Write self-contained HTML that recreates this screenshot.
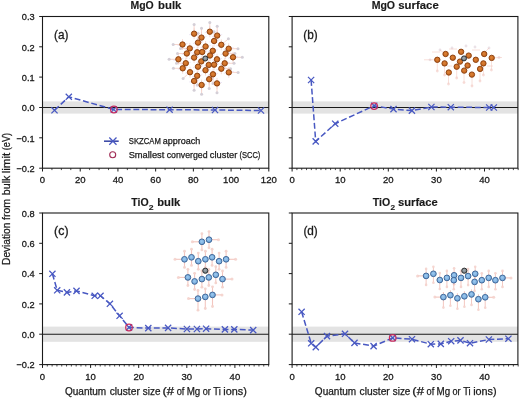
<!DOCTYPE html>
<html><head><meta charset="utf-8"><style>
html,body{margin:0;padding:0;background:#fff;}
svg{display:block;font-family:"Liberation Sans", sans-serif;will-change:transform;}
</style></head><body>
<svg width="520" height="398" viewBox="0 0 520 398">
<defs>
<radialGradient id="go" cx="0.45" cy="0.42" r="0.6"><stop offset="0" stop-color="#dc8236"/><stop offset="1" stop-color="#c4631c"/></radialGradient>
<radialGradient id="gb" cx="0.45" cy="0.42" r="0.6"><stop offset="0" stop-color="#9ecbf0"/><stop offset="1" stop-color="#6ea3d8"/></radialGradient>
<radialGradient id="gg" cx="0.45" cy="0.42" r="0.6"><stop offset="0" stop-color="#a2adb4"/><stop offset="1" stop-color="#6b767c"/></radialGradient>
</defs>
<rect width="520" height="398" fill="#fff"/>
<rect x="42.50" y="101.40" width="226.30" height="12.20" fill="#e3e3e3"/>
<line x1="42.50" y1="107.50" x2="268.80" y2="107.50" stroke="#1a1a1a" stroke-width="1.1" />
<rect x="292.10" y="101.40" width="225.80" height="12.20" fill="#e3e3e3"/>
<line x1="292.10" y1="107.50" x2="517.90" y2="107.50" stroke="#1a1a1a" stroke-width="1.1" />
<rect x="42.50" y="326.60" width="226.30" height="15.20" fill="#e3e3e3"/>
<line x1="42.50" y1="334.20" x2="268.80" y2="334.20" stroke="#1a1a1a" stroke-width="1.1" />
<rect x="292.10" y="326.60" width="225.80" height="15.20" fill="#e3e3e3"/>
<line x1="292.10" y1="334.20" x2="517.90" y2="334.20" stroke="#1a1a1a" stroke-width="1.1" />
<path d="M54.50 110.30 L68.80 96.80 L113.80 109.50 L169.60 109.70 L215.00 110.00 L261.00 110.50" stroke="#4858c2" stroke-width="1.5" fill="none" stroke-dasharray="5.9 2.7"/>
<path d="M51.40 107.20L57.60 113.40M51.40 113.40L57.60 107.20" stroke="#4858c2" stroke-width="1.25" fill="none"/>
<path d="M65.70 93.70L71.90 99.90M65.70 99.90L71.90 93.70" stroke="#4858c2" stroke-width="1.25" fill="none"/>
<path d="M110.70 106.40L116.90 112.60M110.70 112.60L116.90 106.40" stroke="#4858c2" stroke-width="1.25" fill="none"/>
<path d="M166.50 106.60L172.70 112.80M166.50 112.80L172.70 106.60" stroke="#4858c2" stroke-width="1.25" fill="none"/>
<path d="M211.90 106.90L218.10 113.10M211.90 113.10L218.10 106.90" stroke="#4858c2" stroke-width="1.25" fill="none"/>
<path d="M257.90 107.40L264.10 113.60M257.90 113.60L264.10 107.40" stroke="#4858c2" stroke-width="1.25" fill="none"/>
<circle cx="113.9" cy="109.5" r="3.3" stroke="#c82a5e" stroke-width="1.2" fill="none"/>
<path d="M311.10 80.00 L315.70 141.40 L335.20 123.70 L374.20 105.70 L393.50 109.10 L411.90 110.60 L431.40 107.00 L450.80 107.20 L489.20 107.50 L493.80 107.50" stroke="#4858c2" stroke-width="1.5" fill="none" stroke-dasharray="5.9 2.7"/>
<path d="M308.00 76.90L314.20 83.10M308.00 83.10L314.20 76.90" stroke="#4858c2" stroke-width="1.25" fill="none"/>
<path d="M312.60 138.30L318.80 144.50M312.60 144.50L318.80 138.30" stroke="#4858c2" stroke-width="1.25" fill="none"/>
<path d="M332.10 120.60L338.30 126.80M332.10 126.80L338.30 120.60" stroke="#4858c2" stroke-width="1.25" fill="none"/>
<path d="M371.10 102.60L377.30 108.80M371.10 108.80L377.30 102.60" stroke="#4858c2" stroke-width="1.25" fill="none"/>
<path d="M390.40 106.00L396.60 112.20M390.40 112.20L396.60 106.00" stroke="#4858c2" stroke-width="1.25" fill="none"/>
<path d="M408.80 107.50L415.00 113.70M408.80 113.70L415.00 107.50" stroke="#4858c2" stroke-width="1.25" fill="none"/>
<path d="M428.30 103.90L434.50 110.10M428.30 110.10L434.50 103.90" stroke="#4858c2" stroke-width="1.25" fill="none"/>
<path d="M447.70 104.10L453.90 110.30M447.70 110.30L453.90 104.10" stroke="#4858c2" stroke-width="1.25" fill="none"/>
<path d="M486.10 104.40L492.30 110.60M486.10 110.60L492.30 104.40" stroke="#4858c2" stroke-width="1.25" fill="none"/>
<path d="M490.70 104.40L496.90 110.60M490.70 110.60L496.90 104.40" stroke="#4858c2" stroke-width="1.25" fill="none"/>
<circle cx="374.1" cy="106.1" r="3.3" stroke="#c82a5e" stroke-width="1.2" fill="none"/>
<path d="M52.40 273.80 L57.20 290.30 L66.90 292.40 L76.50 290.90 L94.70 295.80 L100.50 295.80 L109.90 303.80 L119.60 315.80 L129.00 327.40 L148.30 328.10 L168.10 327.90 L186.90 329.00 L196.90 329.00 L206.10 328.70 L224.90 329.40 L234.30 329.40 L253.20 330.10" stroke="#4858c2" stroke-width="1.5" fill="none" stroke-dasharray="5.9 2.7"/>
<path d="M49.30 270.70L55.50 276.90M49.30 276.90L55.50 270.70" stroke="#4858c2" stroke-width="1.25" fill="none"/>
<path d="M54.10 287.20L60.30 293.40M54.10 293.40L60.30 287.20" stroke="#4858c2" stroke-width="1.25" fill="none"/>
<path d="M63.80 289.30L70.00 295.50M63.80 295.50L70.00 289.30" stroke="#4858c2" stroke-width="1.25" fill="none"/>
<path d="M73.40 287.80L79.60 294.00M73.40 294.00L79.60 287.80" stroke="#4858c2" stroke-width="1.25" fill="none"/>
<path d="M91.60 292.70L97.80 298.90M91.60 298.90L97.80 292.70" stroke="#4858c2" stroke-width="1.25" fill="none"/>
<path d="M97.40 292.70L103.60 298.90M97.40 298.90L103.60 292.70" stroke="#4858c2" stroke-width="1.25" fill="none"/>
<path d="M106.80 300.70L113.00 306.90M106.80 306.90L113.00 300.70" stroke="#4858c2" stroke-width="1.25" fill="none"/>
<path d="M116.50 312.70L122.70 318.90M116.50 318.90L122.70 312.70" stroke="#4858c2" stroke-width="1.25" fill="none"/>
<path d="M125.90 324.30L132.10 330.50M125.90 330.50L132.10 324.30" stroke="#4858c2" stroke-width="1.25" fill="none"/>
<path d="M145.20 325.00L151.40 331.20M145.20 331.20L151.40 325.00" stroke="#4858c2" stroke-width="1.25" fill="none"/>
<path d="M165.00 324.80L171.20 331.00M165.00 331.00L171.20 324.80" stroke="#4858c2" stroke-width="1.25" fill="none"/>
<path d="M183.80 325.90L190.00 332.10M183.80 332.10L190.00 325.90" stroke="#4858c2" stroke-width="1.25" fill="none"/>
<path d="M193.80 325.90L200.00 332.10M193.80 332.10L200.00 325.90" stroke="#4858c2" stroke-width="1.25" fill="none"/>
<path d="M203.00 325.60L209.20 331.80M203.00 331.80L209.20 325.60" stroke="#4858c2" stroke-width="1.25" fill="none"/>
<path d="M221.80 326.30L228.00 332.50M221.80 332.50L228.00 326.30" stroke="#4858c2" stroke-width="1.25" fill="none"/>
<path d="M231.20 326.30L237.40 332.50M231.20 332.50L237.40 326.30" stroke="#4858c2" stroke-width="1.25" fill="none"/>
<path d="M250.10 327.00L256.30 333.20M250.10 333.20L256.30 327.00" stroke="#4858c2" stroke-width="1.25" fill="none"/>
<circle cx="129" cy="327.5" r="3.3" stroke="#c82a5e" stroke-width="1.2" fill="none"/>
<path d="M301.60 311.80 L311.20 343.30 L315.80 347.10 L327.00 336.10 L345.00 333.80 L354.50 342.90 L373.60 346.10 L392.70 337.90 L412.00 339.20 L430.80 344.20 L440.80 343.90 L451.20 341.20 L460.50 340.40 L470.00 343.20 L488.90 339.50 L508.40 338.70" stroke="#4858c2" stroke-width="1.5" fill="none" stroke-dasharray="5.9 2.7"/>
<path d="M298.50 308.70L304.70 314.90M298.50 314.90L304.70 308.70" stroke="#4858c2" stroke-width="1.25" fill="none"/>
<path d="M308.10 340.20L314.30 346.40M308.10 346.40L314.30 340.20" stroke="#4858c2" stroke-width="1.25" fill="none"/>
<path d="M312.70 344.00L318.90 350.20M312.70 350.20L318.90 344.00" stroke="#4858c2" stroke-width="1.25" fill="none"/>
<path d="M323.90 333.00L330.10 339.20M323.90 339.20L330.10 333.00" stroke="#4858c2" stroke-width="1.25" fill="none"/>
<path d="M341.90 330.70L348.10 336.90M341.90 336.90L348.10 330.70" stroke="#4858c2" stroke-width="1.25" fill="none"/>
<path d="M351.40 339.80L357.60 346.00M351.40 346.00L357.60 339.80" stroke="#4858c2" stroke-width="1.25" fill="none"/>
<path d="M370.50 343.00L376.70 349.20M370.50 349.20L376.70 343.00" stroke="#4858c2" stroke-width="1.25" fill="none"/>
<path d="M389.60 334.80L395.80 341.00M389.60 341.00L395.80 334.80" stroke="#4858c2" stroke-width="1.25" fill="none"/>
<path d="M408.90 336.10L415.10 342.30M408.90 342.30L415.10 336.10" stroke="#4858c2" stroke-width="1.25" fill="none"/>
<path d="M427.70 341.10L433.90 347.30M427.70 347.30L433.90 341.10" stroke="#4858c2" stroke-width="1.25" fill="none"/>
<path d="M437.70 340.80L443.90 347.00M437.70 347.00L443.90 340.80" stroke="#4858c2" stroke-width="1.25" fill="none"/>
<path d="M448.10 338.10L454.30 344.30M448.10 344.30L454.30 338.10" stroke="#4858c2" stroke-width="1.25" fill="none"/>
<path d="M457.40 337.30L463.60 343.50M457.40 343.50L463.60 337.30" stroke="#4858c2" stroke-width="1.25" fill="none"/>
<path d="M466.90 340.10L473.10 346.30M466.90 346.30L473.10 340.10" stroke="#4858c2" stroke-width="1.25" fill="none"/>
<path d="M485.80 336.40L492.00 342.60M485.80 342.60L492.00 336.40" stroke="#4858c2" stroke-width="1.25" fill="none"/>
<path d="M505.30 335.60L511.50 341.80M505.30 341.80L511.50 335.60" stroke="#4858c2" stroke-width="1.25" fill="none"/>
<circle cx="392.7" cy="337.9" r="3.3" stroke="#c82a5e" stroke-width="1.2" fill="none"/>
<rect x="42.50" y="16.50" width="226.30" height="151.70" fill="none" stroke="#1a1a1a" stroke-width="1.1"/>
<rect x="292.10" y="16.50" width="225.80" height="151.70" fill="none" stroke="#1a1a1a" stroke-width="1.1"/>
<rect x="42.50" y="213.00" width="226.30" height="151.60" fill="none" stroke="#1a1a1a" stroke-width="1.1"/>
<rect x="292.10" y="213.00" width="225.80" height="151.60" fill="none" stroke="#1a1a1a" stroke-width="1.1"/>
<line x1="39.20" y1="16.50" x2="42.50" y2="16.50" stroke="#1a1a1a" stroke-width="1.0" />
<line x1="39.20" y1="46.80" x2="42.50" y2="46.80" stroke="#1a1a1a" stroke-width="1.0" />
<line x1="39.20" y1="77.10" x2="42.50" y2="77.10" stroke="#1a1a1a" stroke-width="1.0" />
<line x1="39.20" y1="107.50" x2="42.50" y2="107.50" stroke="#1a1a1a" stroke-width="1.0" />
<line x1="39.20" y1="137.80" x2="42.50" y2="137.80" stroke="#1a1a1a" stroke-width="1.0" />
<line x1="39.20" y1="168.20" x2="42.50" y2="168.20" stroke="#1a1a1a" stroke-width="1.0" />
<text x="34.60" y="20.35" font-size="9.6" text-anchor="end" font-weight="normal" fill="#1a1a1a" stroke="#1a1a1a" stroke-width="0.3" textLength="12.8" lengthAdjust="spacingAndGlyphs" >0.3</text>
<text x="34.60" y="50.65" font-size="9.6" text-anchor="end" font-weight="normal" fill="#1a1a1a" stroke="#1a1a1a" stroke-width="0.3" textLength="12.8" lengthAdjust="spacingAndGlyphs" >0.2</text>
<text x="34.60" y="80.95" font-size="9.6" text-anchor="end" font-weight="normal" fill="#1a1a1a" stroke="#1a1a1a" stroke-width="0.3" textLength="12.8" lengthAdjust="spacingAndGlyphs" >0.1</text>
<text x="34.60" y="111.35" font-size="9.6" text-anchor="end" font-weight="normal" fill="#1a1a1a" stroke="#1a1a1a" stroke-width="0.3" textLength="12.8" lengthAdjust="spacingAndGlyphs" >0.0</text>
<text x="34.60" y="141.65" font-size="9.6" text-anchor="end" font-weight="normal" fill="#1a1a1a" stroke="#1a1a1a" stroke-width="0.3" textLength="18.2" lengthAdjust="spacingAndGlyphs" >−0.1</text>
<text x="34.60" y="172.05" font-size="9.6" text-anchor="end" font-weight="normal" fill="#1a1a1a" stroke="#1a1a1a" stroke-width="0.3" textLength="18.2" lengthAdjust="spacingAndGlyphs" >−0.2</text>
<line x1="288.80" y1="16.50" x2="292.10" y2="16.50" stroke="#1a1a1a" stroke-width="1.0" />
<line x1="288.80" y1="46.80" x2="292.10" y2="46.80" stroke="#1a1a1a" stroke-width="1.0" />
<line x1="288.80" y1="77.10" x2="292.10" y2="77.10" stroke="#1a1a1a" stroke-width="1.0" />
<line x1="288.80" y1="107.50" x2="292.10" y2="107.50" stroke="#1a1a1a" stroke-width="1.0" />
<line x1="288.80" y1="137.80" x2="292.10" y2="137.80" stroke="#1a1a1a" stroke-width="1.0" />
<line x1="288.80" y1="168.20" x2="292.10" y2="168.20" stroke="#1a1a1a" stroke-width="1.0" />
<line x1="39.20" y1="213.00" x2="42.50" y2="213.00" stroke="#1a1a1a" stroke-width="1.0" />
<line x1="39.20" y1="243.30" x2="42.50" y2="243.30" stroke="#1a1a1a" stroke-width="1.0" />
<line x1="39.20" y1="273.60" x2="42.50" y2="273.60" stroke="#1a1a1a" stroke-width="1.0" />
<line x1="39.20" y1="303.90" x2="42.50" y2="303.90" stroke="#1a1a1a" stroke-width="1.0" />
<line x1="39.20" y1="334.20" x2="42.50" y2="334.20" stroke="#1a1a1a" stroke-width="1.0" />
<line x1="39.20" y1="364.60" x2="42.50" y2="364.60" stroke="#1a1a1a" stroke-width="1.0" />
<text x="34.60" y="216.85" font-size="9.6" text-anchor="end" font-weight="normal" fill="#1a1a1a" stroke="#1a1a1a" stroke-width="0.3" textLength="12.8" lengthAdjust="spacingAndGlyphs" >0.8</text>
<text x="34.60" y="247.15" font-size="9.6" text-anchor="end" font-weight="normal" fill="#1a1a1a" stroke="#1a1a1a" stroke-width="0.3" textLength="12.8" lengthAdjust="spacingAndGlyphs" >0.6</text>
<text x="34.60" y="277.45" font-size="9.6" text-anchor="end" font-weight="normal" fill="#1a1a1a" stroke="#1a1a1a" stroke-width="0.3" textLength="12.8" lengthAdjust="spacingAndGlyphs" >0.4</text>
<text x="34.60" y="307.75" font-size="9.6" text-anchor="end" font-weight="normal" fill="#1a1a1a" stroke="#1a1a1a" stroke-width="0.3" textLength="12.8" lengthAdjust="spacingAndGlyphs" >0.2</text>
<text x="34.60" y="338.05" font-size="9.6" text-anchor="end" font-weight="normal" fill="#1a1a1a" stroke="#1a1a1a" stroke-width="0.3" textLength="12.8" lengthAdjust="spacingAndGlyphs" >0.0</text>
<text x="34.60" y="368.45" font-size="9.6" text-anchor="end" font-weight="normal" fill="#1a1a1a" stroke="#1a1a1a" stroke-width="0.3" textLength="18.2" lengthAdjust="spacingAndGlyphs" >−0.2</text>
<line x1="288.80" y1="213.00" x2="292.10" y2="213.00" stroke="#1a1a1a" stroke-width="1.0" />
<line x1="288.80" y1="243.30" x2="292.10" y2="243.30" stroke="#1a1a1a" stroke-width="1.0" />
<line x1="288.80" y1="273.60" x2="292.10" y2="273.60" stroke="#1a1a1a" stroke-width="1.0" />
<line x1="288.80" y1="303.90" x2="292.10" y2="303.90" stroke="#1a1a1a" stroke-width="1.0" />
<line x1="288.80" y1="334.20" x2="292.10" y2="334.20" stroke="#1a1a1a" stroke-width="1.0" />
<line x1="288.80" y1="364.60" x2="292.10" y2="364.60" stroke="#1a1a1a" stroke-width="1.0" />
<line x1="42.50" y1="168.20" x2="42.50" y2="171.50" stroke="#1a1a1a" stroke-width="1.0" />
<line x1="51.93" y1="168.20" x2="51.93" y2="170.10" stroke="#1a1a1a" stroke-width="0.8" />
<line x1="61.36" y1="168.20" x2="61.36" y2="170.10" stroke="#1a1a1a" stroke-width="0.8" />
<line x1="70.79" y1="168.20" x2="70.79" y2="170.10" stroke="#1a1a1a" stroke-width="0.8" />
<line x1="80.22" y1="168.20" x2="80.22" y2="171.50" stroke="#1a1a1a" stroke-width="1.0" />
<line x1="89.64" y1="168.20" x2="89.64" y2="170.10" stroke="#1a1a1a" stroke-width="0.8" />
<line x1="99.07" y1="168.20" x2="99.07" y2="170.10" stroke="#1a1a1a" stroke-width="0.8" />
<line x1="108.50" y1="168.20" x2="108.50" y2="170.10" stroke="#1a1a1a" stroke-width="0.8" />
<line x1="117.93" y1="168.20" x2="117.93" y2="171.50" stroke="#1a1a1a" stroke-width="1.0" />
<line x1="127.36" y1="168.20" x2="127.36" y2="170.10" stroke="#1a1a1a" stroke-width="0.8" />
<line x1="136.79" y1="168.20" x2="136.79" y2="170.10" stroke="#1a1a1a" stroke-width="0.8" />
<line x1="146.22" y1="168.20" x2="146.22" y2="170.10" stroke="#1a1a1a" stroke-width="0.8" />
<line x1="155.65" y1="168.20" x2="155.65" y2="171.50" stroke="#1a1a1a" stroke-width="1.0" />
<line x1="165.08" y1="168.20" x2="165.08" y2="170.10" stroke="#1a1a1a" stroke-width="0.8" />
<line x1="174.51" y1="168.20" x2="174.51" y2="170.10" stroke="#1a1a1a" stroke-width="0.8" />
<line x1="183.94" y1="168.20" x2="183.94" y2="170.10" stroke="#1a1a1a" stroke-width="0.8" />
<line x1="193.36" y1="168.20" x2="193.36" y2="171.50" stroke="#1a1a1a" stroke-width="1.0" />
<line x1="202.79" y1="168.20" x2="202.79" y2="170.10" stroke="#1a1a1a" stroke-width="0.8" />
<line x1="212.22" y1="168.20" x2="212.22" y2="170.10" stroke="#1a1a1a" stroke-width="0.8" />
<line x1="221.65" y1="168.20" x2="221.65" y2="170.10" stroke="#1a1a1a" stroke-width="0.8" />
<line x1="231.08" y1="168.20" x2="231.08" y2="171.50" stroke="#1a1a1a" stroke-width="1.0" />
<line x1="240.51" y1="168.20" x2="240.51" y2="170.10" stroke="#1a1a1a" stroke-width="0.8" />
<line x1="249.94" y1="168.20" x2="249.94" y2="170.10" stroke="#1a1a1a" stroke-width="0.8" />
<line x1="259.37" y1="168.20" x2="259.37" y2="170.10" stroke="#1a1a1a" stroke-width="0.8" />
<line x1="268.80" y1="168.20" x2="268.80" y2="171.50" stroke="#1a1a1a" stroke-width="1.0" />
<text x="42.50" y="183.20" font-size="9.9" text-anchor="middle" font-weight="normal" fill="#1a1a1a" stroke="#1a1a1a" stroke-width="0.3" textLength="5.3" lengthAdjust="spacingAndGlyphs" >0</text>
<text x="80.22" y="183.20" font-size="9.9" text-anchor="middle" font-weight="normal" fill="#1a1a1a" stroke="#1a1a1a" stroke-width="0.3" textLength="10.6" lengthAdjust="spacingAndGlyphs" >20</text>
<text x="117.93" y="183.20" font-size="9.9" text-anchor="middle" font-weight="normal" fill="#1a1a1a" stroke="#1a1a1a" stroke-width="0.3" textLength="10.6" lengthAdjust="spacingAndGlyphs" >40</text>
<text x="155.65" y="183.20" font-size="9.9" text-anchor="middle" font-weight="normal" fill="#1a1a1a" stroke="#1a1a1a" stroke-width="0.3" textLength="10.6" lengthAdjust="spacingAndGlyphs" >60</text>
<text x="193.36" y="183.20" font-size="9.9" text-anchor="middle" font-weight="normal" fill="#1a1a1a" stroke="#1a1a1a" stroke-width="0.3" textLength="10.6" lengthAdjust="spacingAndGlyphs" >80</text>
<text x="231.08" y="183.20" font-size="9.9" text-anchor="middle" font-weight="normal" fill="#1a1a1a" stroke="#1a1a1a" stroke-width="0.3" textLength="16" lengthAdjust="spacingAndGlyphs" >100</text>
<text x="268.80" y="183.20" font-size="9.9" text-anchor="middle" font-weight="normal" fill="#1a1a1a" stroke="#1a1a1a" stroke-width="0.3" textLength="16" lengthAdjust="spacingAndGlyphs" >120</text>
<line x1="292.10" y1="168.20" x2="292.10" y2="171.50" stroke="#1a1a1a" stroke-width="1.0" />
<line x1="296.91" y1="168.20" x2="296.91" y2="170.10" stroke="#1a1a1a" stroke-width="0.8" />
<line x1="301.72" y1="168.20" x2="301.72" y2="170.10" stroke="#1a1a1a" stroke-width="0.8" />
<line x1="306.53" y1="168.20" x2="306.53" y2="170.10" stroke="#1a1a1a" stroke-width="0.8" />
<line x1="311.34" y1="168.20" x2="311.34" y2="170.10" stroke="#1a1a1a" stroke-width="0.8" />
<line x1="316.15" y1="168.20" x2="316.15" y2="170.10" stroke="#1a1a1a" stroke-width="0.8" />
<line x1="320.96" y1="168.20" x2="320.96" y2="170.10" stroke="#1a1a1a" stroke-width="0.8" />
<line x1="325.77" y1="168.20" x2="325.77" y2="170.10" stroke="#1a1a1a" stroke-width="0.8" />
<line x1="330.58" y1="168.20" x2="330.58" y2="170.10" stroke="#1a1a1a" stroke-width="0.8" />
<line x1="335.39" y1="168.20" x2="335.39" y2="170.10" stroke="#1a1a1a" stroke-width="0.8" />
<line x1="340.20" y1="168.20" x2="340.20" y2="171.50" stroke="#1a1a1a" stroke-width="1.0" />
<line x1="345.01" y1="168.20" x2="345.01" y2="170.10" stroke="#1a1a1a" stroke-width="0.8" />
<line x1="349.82" y1="168.20" x2="349.82" y2="170.10" stroke="#1a1a1a" stroke-width="0.8" />
<line x1="354.63" y1="168.20" x2="354.63" y2="170.10" stroke="#1a1a1a" stroke-width="0.8" />
<line x1="359.44" y1="168.20" x2="359.44" y2="170.10" stroke="#1a1a1a" stroke-width="0.8" />
<line x1="364.25" y1="168.20" x2="364.25" y2="170.10" stroke="#1a1a1a" stroke-width="0.8" />
<line x1="369.06" y1="168.20" x2="369.06" y2="170.10" stroke="#1a1a1a" stroke-width="0.8" />
<line x1="373.87" y1="168.20" x2="373.87" y2="170.10" stroke="#1a1a1a" stroke-width="0.8" />
<line x1="378.68" y1="168.20" x2="378.68" y2="170.10" stroke="#1a1a1a" stroke-width="0.8" />
<line x1="383.49" y1="168.20" x2="383.49" y2="170.10" stroke="#1a1a1a" stroke-width="0.8" />
<line x1="388.30" y1="168.20" x2="388.30" y2="171.50" stroke="#1a1a1a" stroke-width="1.0" />
<line x1="393.11" y1="168.20" x2="393.11" y2="170.10" stroke="#1a1a1a" stroke-width="0.8" />
<line x1="397.92" y1="168.20" x2="397.92" y2="170.10" stroke="#1a1a1a" stroke-width="0.8" />
<line x1="402.73" y1="168.20" x2="402.73" y2="170.10" stroke="#1a1a1a" stroke-width="0.8" />
<line x1="407.54" y1="168.20" x2="407.54" y2="170.10" stroke="#1a1a1a" stroke-width="0.8" />
<line x1="412.35" y1="168.20" x2="412.35" y2="170.10" stroke="#1a1a1a" stroke-width="0.8" />
<line x1="417.16" y1="168.20" x2="417.16" y2="170.10" stroke="#1a1a1a" stroke-width="0.8" />
<line x1="421.97" y1="168.20" x2="421.97" y2="170.10" stroke="#1a1a1a" stroke-width="0.8" />
<line x1="426.78" y1="168.20" x2="426.78" y2="170.10" stroke="#1a1a1a" stroke-width="0.8" />
<line x1="431.59" y1="168.20" x2="431.59" y2="170.10" stroke="#1a1a1a" stroke-width="0.8" />
<line x1="436.40" y1="168.20" x2="436.40" y2="171.50" stroke="#1a1a1a" stroke-width="1.0" />
<line x1="441.21" y1="168.20" x2="441.21" y2="170.10" stroke="#1a1a1a" stroke-width="0.8" />
<line x1="446.02" y1="168.20" x2="446.02" y2="170.10" stroke="#1a1a1a" stroke-width="0.8" />
<line x1="450.83" y1="168.20" x2="450.83" y2="170.10" stroke="#1a1a1a" stroke-width="0.8" />
<line x1="455.64" y1="168.20" x2="455.64" y2="170.10" stroke="#1a1a1a" stroke-width="0.8" />
<line x1="460.45" y1="168.20" x2="460.45" y2="170.10" stroke="#1a1a1a" stroke-width="0.8" />
<line x1="465.26" y1="168.20" x2="465.26" y2="170.10" stroke="#1a1a1a" stroke-width="0.8" />
<line x1="470.07" y1="168.20" x2="470.07" y2="170.10" stroke="#1a1a1a" stroke-width="0.8" />
<line x1="474.88" y1="168.20" x2="474.88" y2="170.10" stroke="#1a1a1a" stroke-width="0.8" />
<line x1="479.69" y1="168.20" x2="479.69" y2="170.10" stroke="#1a1a1a" stroke-width="0.8" />
<line x1="484.50" y1="168.20" x2="484.50" y2="171.50" stroke="#1a1a1a" stroke-width="1.0" />
<line x1="489.31" y1="168.20" x2="489.31" y2="170.10" stroke="#1a1a1a" stroke-width="0.8" />
<line x1="494.12" y1="168.20" x2="494.12" y2="170.10" stroke="#1a1a1a" stroke-width="0.8" />
<line x1="498.93" y1="168.20" x2="498.93" y2="170.10" stroke="#1a1a1a" stroke-width="0.8" />
<line x1="503.74" y1="168.20" x2="503.74" y2="170.10" stroke="#1a1a1a" stroke-width="0.8" />
<line x1="508.55" y1="168.20" x2="508.55" y2="170.10" stroke="#1a1a1a" stroke-width="0.8" />
<line x1="513.36" y1="168.20" x2="513.36" y2="170.10" stroke="#1a1a1a" stroke-width="0.8" />
<line x1="518.17" y1="168.20" x2="518.17" y2="170.10" stroke="#1a1a1a" stroke-width="0.8" />
<text x="292.10" y="183.20" font-size="9.9" text-anchor="middle" font-weight="normal" fill="#1a1a1a" stroke="#1a1a1a" stroke-width="0.3" textLength="5.3" lengthAdjust="spacingAndGlyphs" >0</text>
<text x="340.20" y="183.20" font-size="9.9" text-anchor="middle" font-weight="normal" fill="#1a1a1a" stroke="#1a1a1a" stroke-width="0.3" textLength="10.6" lengthAdjust="spacingAndGlyphs" >10</text>
<text x="388.30" y="183.20" font-size="9.9" text-anchor="middle" font-weight="normal" fill="#1a1a1a" stroke="#1a1a1a" stroke-width="0.3" textLength="10.6" lengthAdjust="spacingAndGlyphs" >20</text>
<text x="436.40" y="183.20" font-size="9.9" text-anchor="middle" font-weight="normal" fill="#1a1a1a" stroke="#1a1a1a" stroke-width="0.3" textLength="10.6" lengthAdjust="spacingAndGlyphs" >30</text>
<text x="484.50" y="183.20" font-size="9.9" text-anchor="middle" font-weight="normal" fill="#1a1a1a" stroke="#1a1a1a" stroke-width="0.3" textLength="10.6" lengthAdjust="spacingAndGlyphs" >40</text>
<line x1="42.50" y1="364.60" x2="42.50" y2="367.90" stroke="#1a1a1a" stroke-width="1.0" />
<line x1="47.31" y1="364.60" x2="47.31" y2="366.50" stroke="#1a1a1a" stroke-width="0.8" />
<line x1="52.12" y1="364.60" x2="52.12" y2="366.50" stroke="#1a1a1a" stroke-width="0.8" />
<line x1="56.93" y1="364.60" x2="56.93" y2="366.50" stroke="#1a1a1a" stroke-width="0.8" />
<line x1="61.74" y1="364.60" x2="61.74" y2="366.50" stroke="#1a1a1a" stroke-width="0.8" />
<line x1="66.55" y1="364.60" x2="66.55" y2="366.50" stroke="#1a1a1a" stroke-width="0.8" />
<line x1="71.36" y1="364.60" x2="71.36" y2="366.50" stroke="#1a1a1a" stroke-width="0.8" />
<line x1="76.17" y1="364.60" x2="76.17" y2="366.50" stroke="#1a1a1a" stroke-width="0.8" />
<line x1="80.98" y1="364.60" x2="80.98" y2="366.50" stroke="#1a1a1a" stroke-width="0.8" />
<line x1="85.79" y1="364.60" x2="85.79" y2="366.50" stroke="#1a1a1a" stroke-width="0.8" />
<line x1="90.60" y1="364.60" x2="90.60" y2="367.90" stroke="#1a1a1a" stroke-width="1.0" />
<line x1="95.41" y1="364.60" x2="95.41" y2="366.50" stroke="#1a1a1a" stroke-width="0.8" />
<line x1="100.22" y1="364.60" x2="100.22" y2="366.50" stroke="#1a1a1a" stroke-width="0.8" />
<line x1="105.03" y1="364.60" x2="105.03" y2="366.50" stroke="#1a1a1a" stroke-width="0.8" />
<line x1="109.84" y1="364.60" x2="109.84" y2="366.50" stroke="#1a1a1a" stroke-width="0.8" />
<line x1="114.65" y1="364.60" x2="114.65" y2="366.50" stroke="#1a1a1a" stroke-width="0.8" />
<line x1="119.46" y1="364.60" x2="119.46" y2="366.50" stroke="#1a1a1a" stroke-width="0.8" />
<line x1="124.27" y1="364.60" x2="124.27" y2="366.50" stroke="#1a1a1a" stroke-width="0.8" />
<line x1="129.08" y1="364.60" x2="129.08" y2="366.50" stroke="#1a1a1a" stroke-width="0.8" />
<line x1="133.89" y1="364.60" x2="133.89" y2="366.50" stroke="#1a1a1a" stroke-width="0.8" />
<line x1="138.70" y1="364.60" x2="138.70" y2="367.90" stroke="#1a1a1a" stroke-width="1.0" />
<line x1="143.51" y1="364.60" x2="143.51" y2="366.50" stroke="#1a1a1a" stroke-width="0.8" />
<line x1="148.32" y1="364.60" x2="148.32" y2="366.50" stroke="#1a1a1a" stroke-width="0.8" />
<line x1="153.13" y1="364.60" x2="153.13" y2="366.50" stroke="#1a1a1a" stroke-width="0.8" />
<line x1="157.94" y1="364.60" x2="157.94" y2="366.50" stroke="#1a1a1a" stroke-width="0.8" />
<line x1="162.75" y1="364.60" x2="162.75" y2="366.50" stroke="#1a1a1a" stroke-width="0.8" />
<line x1="167.56" y1="364.60" x2="167.56" y2="366.50" stroke="#1a1a1a" stroke-width="0.8" />
<line x1="172.37" y1="364.60" x2="172.37" y2="366.50" stroke="#1a1a1a" stroke-width="0.8" />
<line x1="177.18" y1="364.60" x2="177.18" y2="366.50" stroke="#1a1a1a" stroke-width="0.8" />
<line x1="181.99" y1="364.60" x2="181.99" y2="366.50" stroke="#1a1a1a" stroke-width="0.8" />
<line x1="186.80" y1="364.60" x2="186.80" y2="367.90" stroke="#1a1a1a" stroke-width="1.0" />
<line x1="191.61" y1="364.60" x2="191.61" y2="366.50" stroke="#1a1a1a" stroke-width="0.8" />
<line x1="196.42" y1="364.60" x2="196.42" y2="366.50" stroke="#1a1a1a" stroke-width="0.8" />
<line x1="201.23" y1="364.60" x2="201.23" y2="366.50" stroke="#1a1a1a" stroke-width="0.8" />
<line x1="206.04" y1="364.60" x2="206.04" y2="366.50" stroke="#1a1a1a" stroke-width="0.8" />
<line x1="210.85" y1="364.60" x2="210.85" y2="366.50" stroke="#1a1a1a" stroke-width="0.8" />
<line x1="215.66" y1="364.60" x2="215.66" y2="366.50" stroke="#1a1a1a" stroke-width="0.8" />
<line x1="220.47" y1="364.60" x2="220.47" y2="366.50" stroke="#1a1a1a" stroke-width="0.8" />
<line x1="225.28" y1="364.60" x2="225.28" y2="366.50" stroke="#1a1a1a" stroke-width="0.8" />
<line x1="230.09" y1="364.60" x2="230.09" y2="366.50" stroke="#1a1a1a" stroke-width="0.8" />
<line x1="234.90" y1="364.60" x2="234.90" y2="367.90" stroke="#1a1a1a" stroke-width="1.0" />
<line x1="239.71" y1="364.60" x2="239.71" y2="366.50" stroke="#1a1a1a" stroke-width="0.8" />
<line x1="244.52" y1="364.60" x2="244.52" y2="366.50" stroke="#1a1a1a" stroke-width="0.8" />
<line x1="249.33" y1="364.60" x2="249.33" y2="366.50" stroke="#1a1a1a" stroke-width="0.8" />
<line x1="254.14" y1="364.60" x2="254.14" y2="366.50" stroke="#1a1a1a" stroke-width="0.8" />
<line x1="258.95" y1="364.60" x2="258.95" y2="366.50" stroke="#1a1a1a" stroke-width="0.8" />
<line x1="263.76" y1="364.60" x2="263.76" y2="366.50" stroke="#1a1a1a" stroke-width="0.8" />
<line x1="268.57" y1="364.60" x2="268.57" y2="366.50" stroke="#1a1a1a" stroke-width="0.8" />
<text x="42.50" y="379.60" font-size="9.9" text-anchor="middle" font-weight="normal" fill="#1a1a1a" stroke="#1a1a1a" stroke-width="0.3" textLength="5.3" lengthAdjust="spacingAndGlyphs" >0</text>
<text x="90.60" y="379.60" font-size="9.9" text-anchor="middle" font-weight="normal" fill="#1a1a1a" stroke="#1a1a1a" stroke-width="0.3" textLength="10.6" lengthAdjust="spacingAndGlyphs" >10</text>
<text x="138.70" y="379.60" font-size="9.9" text-anchor="middle" font-weight="normal" fill="#1a1a1a" stroke="#1a1a1a" stroke-width="0.3" textLength="10.6" lengthAdjust="spacingAndGlyphs" >20</text>
<text x="186.80" y="379.60" font-size="9.9" text-anchor="middle" font-weight="normal" fill="#1a1a1a" stroke="#1a1a1a" stroke-width="0.3" textLength="10.6" lengthAdjust="spacingAndGlyphs" >30</text>
<text x="234.90" y="379.60" font-size="9.9" text-anchor="middle" font-weight="normal" fill="#1a1a1a" stroke="#1a1a1a" stroke-width="0.3" textLength="10.6" lengthAdjust="spacingAndGlyphs" >40</text>
<line x1="292.10" y1="364.60" x2="292.10" y2="367.90" stroke="#1a1a1a" stroke-width="1.0" />
<line x1="296.91" y1="364.60" x2="296.91" y2="366.50" stroke="#1a1a1a" stroke-width="0.8" />
<line x1="301.72" y1="364.60" x2="301.72" y2="366.50" stroke="#1a1a1a" stroke-width="0.8" />
<line x1="306.53" y1="364.60" x2="306.53" y2="366.50" stroke="#1a1a1a" stroke-width="0.8" />
<line x1="311.34" y1="364.60" x2="311.34" y2="366.50" stroke="#1a1a1a" stroke-width="0.8" />
<line x1="316.15" y1="364.60" x2="316.15" y2="366.50" stroke="#1a1a1a" stroke-width="0.8" />
<line x1="320.96" y1="364.60" x2="320.96" y2="366.50" stroke="#1a1a1a" stroke-width="0.8" />
<line x1="325.77" y1="364.60" x2="325.77" y2="366.50" stroke="#1a1a1a" stroke-width="0.8" />
<line x1="330.58" y1="364.60" x2="330.58" y2="366.50" stroke="#1a1a1a" stroke-width="0.8" />
<line x1="335.39" y1="364.60" x2="335.39" y2="366.50" stroke="#1a1a1a" stroke-width="0.8" />
<line x1="340.20" y1="364.60" x2="340.20" y2="367.90" stroke="#1a1a1a" stroke-width="1.0" />
<line x1="345.01" y1="364.60" x2="345.01" y2="366.50" stroke="#1a1a1a" stroke-width="0.8" />
<line x1="349.82" y1="364.60" x2="349.82" y2="366.50" stroke="#1a1a1a" stroke-width="0.8" />
<line x1="354.63" y1="364.60" x2="354.63" y2="366.50" stroke="#1a1a1a" stroke-width="0.8" />
<line x1="359.44" y1="364.60" x2="359.44" y2="366.50" stroke="#1a1a1a" stroke-width="0.8" />
<line x1="364.25" y1="364.60" x2="364.25" y2="366.50" stroke="#1a1a1a" stroke-width="0.8" />
<line x1="369.06" y1="364.60" x2="369.06" y2="366.50" stroke="#1a1a1a" stroke-width="0.8" />
<line x1="373.87" y1="364.60" x2="373.87" y2="366.50" stroke="#1a1a1a" stroke-width="0.8" />
<line x1="378.68" y1="364.60" x2="378.68" y2="366.50" stroke="#1a1a1a" stroke-width="0.8" />
<line x1="383.49" y1="364.60" x2="383.49" y2="366.50" stroke="#1a1a1a" stroke-width="0.8" />
<line x1="388.30" y1="364.60" x2="388.30" y2="367.90" stroke="#1a1a1a" stroke-width="1.0" />
<line x1="393.11" y1="364.60" x2="393.11" y2="366.50" stroke="#1a1a1a" stroke-width="0.8" />
<line x1="397.92" y1="364.60" x2="397.92" y2="366.50" stroke="#1a1a1a" stroke-width="0.8" />
<line x1="402.73" y1="364.60" x2="402.73" y2="366.50" stroke="#1a1a1a" stroke-width="0.8" />
<line x1="407.54" y1="364.60" x2="407.54" y2="366.50" stroke="#1a1a1a" stroke-width="0.8" />
<line x1="412.35" y1="364.60" x2="412.35" y2="366.50" stroke="#1a1a1a" stroke-width="0.8" />
<line x1="417.16" y1="364.60" x2="417.16" y2="366.50" stroke="#1a1a1a" stroke-width="0.8" />
<line x1="421.97" y1="364.60" x2="421.97" y2="366.50" stroke="#1a1a1a" stroke-width="0.8" />
<line x1="426.78" y1="364.60" x2="426.78" y2="366.50" stroke="#1a1a1a" stroke-width="0.8" />
<line x1="431.59" y1="364.60" x2="431.59" y2="366.50" stroke="#1a1a1a" stroke-width="0.8" />
<line x1="436.40" y1="364.60" x2="436.40" y2="367.90" stroke="#1a1a1a" stroke-width="1.0" />
<line x1="441.21" y1="364.60" x2="441.21" y2="366.50" stroke="#1a1a1a" stroke-width="0.8" />
<line x1="446.02" y1="364.60" x2="446.02" y2="366.50" stroke="#1a1a1a" stroke-width="0.8" />
<line x1="450.83" y1="364.60" x2="450.83" y2="366.50" stroke="#1a1a1a" stroke-width="0.8" />
<line x1="455.64" y1="364.60" x2="455.64" y2="366.50" stroke="#1a1a1a" stroke-width="0.8" />
<line x1="460.45" y1="364.60" x2="460.45" y2="366.50" stroke="#1a1a1a" stroke-width="0.8" />
<line x1="465.26" y1="364.60" x2="465.26" y2="366.50" stroke="#1a1a1a" stroke-width="0.8" />
<line x1="470.07" y1="364.60" x2="470.07" y2="366.50" stroke="#1a1a1a" stroke-width="0.8" />
<line x1="474.88" y1="364.60" x2="474.88" y2="366.50" stroke="#1a1a1a" stroke-width="0.8" />
<line x1="479.69" y1="364.60" x2="479.69" y2="366.50" stroke="#1a1a1a" stroke-width="0.8" />
<line x1="484.50" y1="364.60" x2="484.50" y2="367.90" stroke="#1a1a1a" stroke-width="1.0" />
<line x1="489.31" y1="364.60" x2="489.31" y2="366.50" stroke="#1a1a1a" stroke-width="0.8" />
<line x1="494.12" y1="364.60" x2="494.12" y2="366.50" stroke="#1a1a1a" stroke-width="0.8" />
<line x1="498.93" y1="364.60" x2="498.93" y2="366.50" stroke="#1a1a1a" stroke-width="0.8" />
<line x1="503.74" y1="364.60" x2="503.74" y2="366.50" stroke="#1a1a1a" stroke-width="0.8" />
<line x1="508.55" y1="364.60" x2="508.55" y2="366.50" stroke="#1a1a1a" stroke-width="0.8" />
<line x1="513.36" y1="364.60" x2="513.36" y2="366.50" stroke="#1a1a1a" stroke-width="0.8" />
<line x1="518.17" y1="364.60" x2="518.17" y2="366.50" stroke="#1a1a1a" stroke-width="0.8" />
<text x="292.10" y="379.60" font-size="9.9" text-anchor="middle" font-weight="normal" fill="#1a1a1a" stroke="#1a1a1a" stroke-width="0.3" textLength="5.3" lengthAdjust="spacingAndGlyphs" >0</text>
<text x="340.20" y="379.60" font-size="9.9" text-anchor="middle" font-weight="normal" fill="#1a1a1a" stroke="#1a1a1a" stroke-width="0.3" textLength="10.6" lengthAdjust="spacingAndGlyphs" >10</text>
<text x="388.30" y="379.60" font-size="9.9" text-anchor="middle" font-weight="normal" fill="#1a1a1a" stroke="#1a1a1a" stroke-width="0.3" textLength="10.6" lengthAdjust="spacingAndGlyphs" >20</text>
<text x="436.40" y="379.60" font-size="9.9" text-anchor="middle" font-weight="normal" fill="#1a1a1a" stroke="#1a1a1a" stroke-width="0.3" textLength="10.6" lengthAdjust="spacingAndGlyphs" >30</text>
<text x="484.50" y="379.60" font-size="9.9" text-anchor="middle" font-weight="normal" fill="#1a1a1a" stroke="#1a1a1a" stroke-width="0.3" textLength="10.6" lengthAdjust="spacingAndGlyphs" >40</text>
<text x="130.55" y="9.40" font-size="10.9" text-anchor="start" font-weight="bold" fill="#1a1a1a" stroke="#1a1a1a" stroke-width="0.15" textLength="23.2" lengthAdjust="spacingAndGlyphs" >MgO</text>
<text x="158.05" y="9.40" font-size="10.9" text-anchor="start" font-weight="bold" fill="#1a1a1a" stroke="#1a1a1a" stroke-width="0.15" textLength="23.3" lengthAdjust="spacingAndGlyphs" >bulk</text>
<text x="371.65" y="9.40" font-size="10.9" text-anchor="start" font-weight="bold" fill="#1a1a1a" stroke="#1a1a1a" stroke-width="0.15" textLength="23.4" lengthAdjust="spacingAndGlyphs" >MgO</text>
<text x="398.25" y="9.40" font-size="10.9" text-anchor="start" font-weight="bold" fill="#1a1a1a" stroke="#1a1a1a" stroke-width="0.15" textLength="40.5" lengthAdjust="spacingAndGlyphs" >surface</text>
<text x="131.25" y="205.70" font-size="10.9" text-anchor="start" font-weight="bold" fill="#1a1a1a" stroke="#1a1a1a" stroke-width="0.15" textLength="17.3" lengthAdjust="spacingAndGlyphs" >TiO</text>
<text x="157.25" y="205.70" font-size="10.9" text-anchor="start" font-weight="bold" fill="#1a1a1a" stroke="#1a1a1a" stroke-width="0.15" textLength="23.0" lengthAdjust="spacingAndGlyphs" >bulk</text>
<text x="148.85" y="209.60" font-size="7.4" text-anchor="start" font-weight="bold" fill="#1a1a1a" stroke="#1a1a1a" stroke-width="0.1" textLength="4.8" lengthAdjust="spacingAndGlyphs" >2</text>
<text x="372.85" y="205.70" font-size="10.9" text-anchor="start" font-weight="bold" fill="#1a1a1a" stroke="#1a1a1a" stroke-width="0.15" textLength="17.4" lengthAdjust="spacingAndGlyphs" >TiO</text>
<text x="397.95" y="205.70" font-size="10.9" text-anchor="start" font-weight="bold" fill="#1a1a1a" stroke="#1a1a1a" stroke-width="0.15" textLength="39.9" lengthAdjust="spacingAndGlyphs" >surface</text>
<text x="390.55" y="209.60" font-size="7.4" text-anchor="start" font-weight="bold" fill="#1a1a1a" stroke="#1a1a1a" stroke-width="0.1" textLength="4.6" lengthAdjust="spacingAndGlyphs" >2</text>
<text x="54.10" y="38.80" font-size="12.3" text-anchor="start" font-weight="normal" fill="#1a1a1a" stroke="#1a1a1a" stroke-width="0.3" textLength="14.4" lengthAdjust="spacingAndGlyphs" >(a)</text>
<text x="303.30" y="38.80" font-size="12.3" text-anchor="start" font-weight="normal" fill="#1a1a1a" stroke="#1a1a1a" stroke-width="0.3" textLength="14.4" lengthAdjust="spacingAndGlyphs" >(b)</text>
<text x="54.10" y="235.10" font-size="12.3" text-anchor="start" font-weight="normal" fill="#1a1a1a" stroke="#1a1a1a" stroke-width="0.3" textLength="14.4" lengthAdjust="spacingAndGlyphs" >(c)</text>
<text x="303.40" y="235.10" font-size="12.3" text-anchor="start" font-weight="normal" fill="#1a1a1a" stroke="#1a1a1a" stroke-width="0.3" textLength="14.4" lengthAdjust="spacingAndGlyphs" >(d)</text>
<text x="64.95" y="395.00" font-size="10" text-anchor="start" font-weight="normal" fill="#1a1a1a" stroke="#1a1a1a" stroke-width="0.25" textLength="41.3" lengthAdjust="spacingAndGlyphs" >Quantum</text>
<text x="109.65" y="395.00" font-size="10" text-anchor="start" font-weight="normal" fill="#1a1a1a" stroke="#1a1a1a" stroke-width="0.25" textLength="30.2" lengthAdjust="spacingAndGlyphs" >cluster</text>
<text x="142.85" y="395.00" font-size="10" text-anchor="start" font-weight="normal" fill="#1a1a1a" stroke="#1a1a1a" stroke-width="0.25" textLength="17.6" lengthAdjust="spacingAndGlyphs" >size</text>
<text x="162.45" y="395.00" font-size="10" text-anchor="start" font-weight="normal" fill="#1a1a1a" stroke="#1a1a1a" stroke-width="0.25" textLength="11.7" lengthAdjust="spacingAndGlyphs" >(#</text>
<text x="176.65" y="395.00" font-size="10" text-anchor="start" font-weight="normal" fill="#1a1a1a" stroke="#1a1a1a" stroke-width="0.25" textLength="7.7" lengthAdjust="spacingAndGlyphs" >of</text>
<text x="186.65" y="395.00" font-size="10" text-anchor="start" font-weight="normal" fill="#1a1a1a" stroke="#1a1a1a" stroke-width="0.25" textLength="13.6" lengthAdjust="spacingAndGlyphs" >Mg</text>
<text x="202.65" y="395.00" font-size="10" text-anchor="start" font-weight="normal" fill="#1a1a1a" stroke="#1a1a1a" stroke-width="0.25" textLength="8.1" lengthAdjust="spacingAndGlyphs" >or</text>
<text x="213.25" y="395.00" font-size="10" text-anchor="start" font-weight="normal" fill="#1a1a1a" stroke="#1a1a1a" stroke-width="0.25" textLength="7.5" lengthAdjust="spacingAndGlyphs" >Ti</text>
<text x="223.25" y="395.00" font-size="10" text-anchor="start" font-weight="normal" fill="#1a1a1a" stroke="#1a1a1a" stroke-width="0.25" textLength="23.5" lengthAdjust="spacingAndGlyphs" >ions)</text>
<text x="314.85" y="395.00" font-size="10" text-anchor="start" font-weight="normal" fill="#1a1a1a" stroke="#1a1a1a" stroke-width="0.25" textLength="41.3" lengthAdjust="spacingAndGlyphs" >Quantum</text>
<text x="359.55" y="395.00" font-size="10" text-anchor="start" font-weight="normal" fill="#1a1a1a" stroke="#1a1a1a" stroke-width="0.25" textLength="30.2" lengthAdjust="spacingAndGlyphs" >cluster</text>
<text x="392.75" y="395.00" font-size="10" text-anchor="start" font-weight="normal" fill="#1a1a1a" stroke="#1a1a1a" stroke-width="0.25" textLength="17.6" lengthAdjust="spacingAndGlyphs" >size</text>
<text x="412.35" y="395.00" font-size="10" text-anchor="start" font-weight="normal" fill="#1a1a1a" stroke="#1a1a1a" stroke-width="0.25" textLength="11.7" lengthAdjust="spacingAndGlyphs" >(#</text>
<text x="426.55" y="395.00" font-size="10" text-anchor="start" font-weight="normal" fill="#1a1a1a" stroke="#1a1a1a" stroke-width="0.25" textLength="7.7" lengthAdjust="spacingAndGlyphs" >of</text>
<text x="436.55" y="395.00" font-size="10" text-anchor="start" font-weight="normal" fill="#1a1a1a" stroke="#1a1a1a" stroke-width="0.25" textLength="13.6" lengthAdjust="spacingAndGlyphs" >Mg</text>
<text x="452.55" y="395.00" font-size="10" text-anchor="start" font-weight="normal" fill="#1a1a1a" stroke="#1a1a1a" stroke-width="0.25" textLength="8.1" lengthAdjust="spacingAndGlyphs" >or</text>
<text x="463.15" y="395.00" font-size="10" text-anchor="start" font-weight="normal" fill="#1a1a1a" stroke="#1a1a1a" stroke-width="0.25" textLength="7.5" lengthAdjust="spacingAndGlyphs" >Ti</text>
<text x="473.15" y="395.00" font-size="10" text-anchor="start" font-weight="normal" fill="#1a1a1a" stroke="#1a1a1a" stroke-width="0.25" textLength="23.5" lengthAdjust="spacingAndGlyphs" >ions)</text>
<text x="-264.95" y="0" font-size="10.3" fill="#1a1a1a" stroke="#1a1a1a" stroke-width="0.25" textLength="42.3" lengthAdjust="spacingAndGlyphs" transform="translate(10.0 0) rotate(-90)">Deviation</text>
<text x="-219.95" y="0" font-size="10.3" fill="#1a1a1a" stroke="#1a1a1a" stroke-width="0.25" textLength="21.1" lengthAdjust="spacingAndGlyphs" transform="translate(10.0 0) rotate(-90)">from</text>
<text x="-195.15" y="0" font-size="10.3" fill="#1a1a1a" stroke="#1a1a1a" stroke-width="0.25" textLength="19.6" lengthAdjust="spacingAndGlyphs" transform="translate(10.0 0) rotate(-90)">bulk</text>
<text x="-173.35" y="0" font-size="10.3" fill="#1a1a1a" stroke="#1a1a1a" stroke-width="0.25" textLength="20.5" lengthAdjust="spacingAndGlyphs" transform="translate(10.0 0) rotate(-90)">limit</text>
<text x="-150.25" y="0" font-size="10.3" fill="#1a1a1a" stroke="#1a1a1a" stroke-width="0.25" textLength="17.4" lengthAdjust="spacingAndGlyphs" transform="translate(10.0 0) rotate(-90)">(eV)</text>
<line x1="104.00" y1="141.20" x2="118.70" y2="141.20" stroke="#3f4ca8" stroke-width="1.6" />
<path d="M109.30 137.50L116.50 144.70M109.30 144.70L116.50 137.50" stroke="#4858c2" stroke-width="1.25" fill="none"/>
<circle cx="112.7" cy="154.7" r="3.0" stroke="#a02c55" stroke-width="1.1" fill="none"/>
<text x="128.85" y="144.20" font-size="8.8" text-anchor="start" font-weight="normal" fill="#1a1a1a" stroke="#1a1a1a" stroke-width="0.25" textLength="32.0" lengthAdjust="spacingAndGlyphs" >SKZCAM</text>
<text x="162.65" y="144.20" font-size="8.8" text-anchor="start" font-weight="normal" fill="#1a1a1a" stroke="#1a1a1a" stroke-width="0.25" textLength="37.7" lengthAdjust="spacingAndGlyphs" >approach</text>
<text x="128.65" y="158.40" font-size="8.8" text-anchor="start" font-weight="normal" fill="#1a1a1a" stroke="#1a1a1a" stroke-width="0.25" textLength="35.7" lengthAdjust="spacingAndGlyphs" >Smallest</text>
<text x="166.65" y="158.40" font-size="8.8" text-anchor="start" font-weight="normal" fill="#1a1a1a" stroke="#1a1a1a" stroke-width="0.25" textLength="41.0" lengthAdjust="spacingAndGlyphs" >converged</text>
<text x="209.85" y="158.40" font-size="8.8" text-anchor="start" font-weight="normal" fill="#1a1a1a" stroke="#1a1a1a" stroke-width="0.25" textLength="27.4" lengthAdjust="spacingAndGlyphs" >cluster</text>
<text x="239.45" y="158.40" font-size="8.8" text-anchor="start" font-weight="normal" fill="#1a1a1a" stroke="#1a1a1a" stroke-width="0.25" textLength="20.9" lengthAdjust="spacingAndGlyphs" >(SCC)</text>
<line x1="194.1" y1="31.2" x2="194.1" y2="25.2" stroke="#f1bdb3" stroke-width="0.9" opacity="0.7"/>
<circle cx="194.1" cy="24.4" r="1.5" fill="#cfcad3" opacity="0.9"/>
<line x1="201.5" y1="35.1" x2="201.5" y2="29.1" stroke="#f1bdb3" stroke-width="0.9" opacity="0.7"/>
<circle cx="201.5" cy="28.3" r="1.5" fill="#cfcad3" opacity="0.9"/>
<line x1="198.0" y1="40.1" x2="198.0" y2="34.1" stroke="#f1bdb3" stroke-width="0.9" opacity="0.7"/>
<circle cx="198.0" cy="33.3" r="1.5" fill="#cfcad3" opacity="0.9"/>
<line x1="180.0" y1="44.5" x2="174.0" y2="44.5" stroke="#f1bdb3" stroke-width="0.9" opacity="0.7"/>
<circle cx="173.2" cy="44.5" r="1.5" fill="#cfcad3" opacity="0.9"/>
<line x1="187.3" y1="48.4" x2="181.3" y2="48.4" stroke="#f1bdb3" stroke-width="0.9" opacity="0.7"/>
<circle cx="180.5" cy="48.4" r="1.5" fill="#cfcad3" opacity="0.9"/>
<line x1="184.3" y1="53.5" x2="178.3" y2="53.5" stroke="#f1bdb3" stroke-width="0.9" opacity="0.7"/>
<circle cx="177.5" cy="53.5" r="1.5" fill="#cfcad3" opacity="0.9"/>
<line x1="209.8" y1="29.2" x2="209.8" y2="23.2" stroke="#f1bdb3" stroke-width="0.9" opacity="0.7"/>
<circle cx="209.8" cy="22.4" r="1.5" fill="#cfcad3" opacity="0.9"/>
<line x1="217.2" y1="33.1" x2="217.2" y2="27.1" stroke="#f1bdb3" stroke-width="0.9" opacity="0.7"/>
<circle cx="217.2" cy="26.3" r="1.5" fill="#cfcad3" opacity="0.9"/>
<line x1="214.1" y1="38.5" x2="214.1" y2="32.5" stroke="#f1bdb3" stroke-width="0.9" opacity="0.7"/>
<circle cx="214.1" cy="31.7" r="1.5" fill="#cfcad3" opacity="0.9"/>
<line x1="223.2" y1="43.2" x2="227.8" y2="39.3" stroke="#f1bdb3" stroke-width="0.9" opacity="0.7"/>
<circle cx="228.4" cy="38.8" r="1.5" fill="#cfcad3" opacity="0.9"/>
<line x1="231.2" y1="48.7" x2="237.2" y2="48.7" stroke="#f1bdb3" stroke-width="0.9" opacity="0.7"/>
<circle cx="238.0" cy="48.7" r="1.5" fill="#cfcad3" opacity="0.9"/>
<line x1="228.1" y1="53.6" x2="234.1" y2="53.6" stroke="#f1bdb3" stroke-width="0.9" opacity="0.7"/>
<circle cx="234.9" cy="53.6" r="1.5" fill="#cfcad3" opacity="0.9"/>
<line x1="235.5" y1="57.3" x2="241.5" y2="57.3" stroke="#f1bdb3" stroke-width="0.9" opacity="0.7"/>
<circle cx="242.3" cy="57.3" r="1.5" fill="#cfcad3" opacity="0.9"/>
<line x1="175.9" y1="59.3" x2="169.9" y2="59.3" stroke="#f1bdb3" stroke-width="0.9" opacity="0.7"/>
<circle cx="169.1" cy="59.3" r="1.5" fill="#cfcad3" opacity="0.9"/>
<line x1="183.3" y1="63.2" x2="177.3" y2="63.2" stroke="#f1bdb3" stroke-width="0.9" opacity="0.7"/>
<circle cx="176.5" cy="63.2" r="1.5" fill="#cfcad3" opacity="0.9"/>
<line x1="180.2" y1="68.3" x2="174.2" y2="68.3" stroke="#f1bdb3" stroke-width="0.9" opacity="0.7"/>
<circle cx="173.4" cy="68.3" r="1.5" fill="#cfcad3" opacity="0.9"/>
<line x1="188.1" y1="73.9" x2="183.7" y2="77.9" stroke="#f1bdb3" stroke-width="0.9" opacity="0.7"/>
<circle cx="183.1" cy="78.4" r="1.5" fill="#cfcad3" opacity="0.9"/>
<line x1="197.2" y1="78.3" x2="197.2" y2="84.3" stroke="#f1bdb3" stroke-width="0.9" opacity="0.7"/>
<circle cx="197.2" cy="85.1" r="1.5" fill="#cfcad3" opacity="0.9"/>
<line x1="194.1" y1="83.5" x2="194.1" y2="89.5" stroke="#f1bdb3" stroke-width="0.9" opacity="0.7"/>
<circle cx="194.1" cy="90.3" r="1.5" fill="#cfcad3" opacity="0.9"/>
<line x1="201.6" y1="87.5" x2="201.6" y2="93.5" stroke="#f1bdb3" stroke-width="0.9" opacity="0.7"/>
<circle cx="201.6" cy="94.3" r="1.5" fill="#cfcad3" opacity="0.9"/>
<line x1="209.2" y1="81.7" x2="209.2" y2="87.7" stroke="#f1bdb3" stroke-width="0.9" opacity="0.7"/>
<circle cx="209.2" cy="88.5" r="1.5" fill="#cfcad3" opacity="0.9"/>
<line x1="227.2" y1="63.3" x2="233.2" y2="63.3" stroke="#f1bdb3" stroke-width="0.9" opacity="0.7"/>
<circle cx="234.0" cy="63.3" r="1.5" fill="#cfcad3" opacity="0.9"/>
<line x1="223.8" y1="68.7" x2="229.8" y2="68.7" stroke="#f1bdb3" stroke-width="0.9" opacity="0.7"/>
<circle cx="230.6" cy="68.7" r="1.5" fill="#cfcad3" opacity="0.9"/>
<line x1="231.3" y1="72.4" x2="237.3" y2="72.4" stroke="#f1bdb3" stroke-width="0.9" opacity="0.7"/>
<circle cx="238.1" cy="72.4" r="1.5" fill="#cfcad3" opacity="0.9"/>
<line x1="213.0" y1="76.8" x2="213.0" y2="82.8" stroke="#f1bdb3" stroke-width="0.9" opacity="0.7"/>
<circle cx="213.0" cy="83.6" r="1.5" fill="#cfcad3" opacity="0.9"/>
<line x1="217.0" y1="85.9" x2="217.0" y2="91.9" stroke="#f1bdb3" stroke-width="0.9" opacity="0.7"/>
<circle cx="217.0" cy="92.7" r="1.5" fill="#cfcad3" opacity="0.9"/>
<line x1="189.1" y1="34.7" x2="199.1" y2="32.7" stroke="#e2d8ee" stroke-width="0.9" opacity="0.7"/>
<line x1="194.1" y1="28.2" x2="194.1" y2="39.2" stroke="#f2cbc2" stroke-width="0.9" opacity="0.7"/>
<line x1="196.5" y1="38.6" x2="206.5" y2="36.6" stroke="#e2d8ee" stroke-width="0.9" opacity="0.7"/>
<line x1="201.5" y1="32.1" x2="201.5" y2="43.1" stroke="#f2cbc2" stroke-width="0.9" opacity="0.7"/>
<line x1="193.0" y1="43.6" x2="203.0" y2="41.6" stroke="#e2d8ee" stroke-width="0.9" opacity="0.7"/>
<line x1="198.0" y1="37.1" x2="198.0" y2="48.1" stroke="#f2cbc2" stroke-width="0.9" opacity="0.7"/>
<line x1="177.5" y1="45.5" x2="187.5" y2="43.5" stroke="#e2d8ee" stroke-width="0.9" opacity="0.7"/>
<line x1="182.5" y1="39.0" x2="182.5" y2="50.0" stroke="#f2cbc2" stroke-width="0.9" opacity="0.7"/>
<line x1="184.8" y1="49.4" x2="194.8" y2="47.4" stroke="#e2d8ee" stroke-width="0.9" opacity="0.7"/>
<line x1="189.8" y1="42.9" x2="189.8" y2="53.9" stroke="#f2cbc2" stroke-width="0.9" opacity="0.7"/>
<line x1="181.8" y1="54.5" x2="191.8" y2="52.5" stroke="#e2d8ee" stroke-width="0.9" opacity="0.7"/>
<line x1="186.8" y1="48.0" x2="186.8" y2="59.0" stroke="#f2cbc2" stroke-width="0.9" opacity="0.7"/>
<line x1="200.6" y1="47.5" x2="210.6" y2="45.5" stroke="#e2d8ee" stroke-width="0.9" opacity="0.7"/>
<line x1="205.6" y1="41.0" x2="205.6" y2="52.0" stroke="#f2cbc2" stroke-width="0.9" opacity="0.7"/>
<line x1="192.2" y1="53.3" x2="202.2" y2="51.3" stroke="#e2d8ee" stroke-width="0.9" opacity="0.7"/>
<line x1="197.2" y1="46.8" x2="197.2" y2="57.8" stroke="#f2cbc2" stroke-width="0.9" opacity="0.7"/>
<line x1="197.2" y1="53.0" x2="207.2" y2="51.0" stroke="#e2d8ee" stroke-width="0.9" opacity="0.7"/>
<line x1="202.2" y1="46.5" x2="202.2" y2="57.5" stroke="#f2cbc2" stroke-width="0.9" opacity="0.7"/>
<line x1="204.8" y1="32.7" x2="214.8" y2="30.7" stroke="#e2d8ee" stroke-width="0.9" opacity="0.7"/>
<line x1="209.8" y1="26.2" x2="209.8" y2="37.2" stroke="#f2cbc2" stroke-width="0.9" opacity="0.7"/>
<line x1="212.2" y1="36.6" x2="222.2" y2="34.6" stroke="#e2d8ee" stroke-width="0.9" opacity="0.7"/>
<line x1="217.2" y1="30.1" x2="217.2" y2="41.1" stroke="#f2cbc2" stroke-width="0.9" opacity="0.7"/>
<line x1="209.1" y1="42.0" x2="219.1" y2="40.0" stroke="#e2d8ee" stroke-width="0.9" opacity="0.7"/>
<line x1="214.1" y1="35.5" x2="214.1" y2="46.5" stroke="#f2cbc2" stroke-width="0.9" opacity="0.7"/>
<line x1="216.3" y1="45.8" x2="226.3" y2="43.8" stroke="#e2d8ee" stroke-width="0.9" opacity="0.7"/>
<line x1="221.3" y1="39.3" x2="221.3" y2="50.3" stroke="#f2cbc2" stroke-width="0.9" opacity="0.7"/>
<line x1="223.7" y1="49.7" x2="233.7" y2="47.7" stroke="#e2d8ee" stroke-width="0.9" opacity="0.7"/>
<line x1="228.7" y1="43.2" x2="228.7" y2="54.2" stroke="#f2cbc2" stroke-width="0.9" opacity="0.7"/>
<line x1="220.6" y1="54.6" x2="230.6" y2="52.6" stroke="#e2d8ee" stroke-width="0.9" opacity="0.7"/>
<line x1="225.6" y1="48.1" x2="225.6" y2="59.1" stroke="#f2cbc2" stroke-width="0.9" opacity="0.7"/>
<line x1="207.8" y1="51.8" x2="217.8" y2="49.8" stroke="#e2d8ee" stroke-width="0.9" opacity="0.7"/>
<line x1="212.8" y1="45.3" x2="212.8" y2="56.3" stroke="#f2cbc2" stroke-width="0.9" opacity="0.7"/>
<line x1="205.0" y1="56.5" x2="215.0" y2="54.5" stroke="#e2d8ee" stroke-width="0.9" opacity="0.7"/>
<line x1="210.0" y1="50.0" x2="210.0" y2="61.0" stroke="#f2cbc2" stroke-width="0.9" opacity="0.7"/>
<line x1="228.0" y1="58.3" x2="238.0" y2="56.3" stroke="#e2d8ee" stroke-width="0.9" opacity="0.7"/>
<line x1="233.0" y1="51.8" x2="233.0" y2="62.8" stroke="#f2cbc2" stroke-width="0.9" opacity="0.7"/>
<line x1="173.4" y1="60.3" x2="183.4" y2="58.3" stroke="#e2d8ee" stroke-width="0.9" opacity="0.7"/>
<line x1="178.4" y1="53.8" x2="178.4" y2="64.8" stroke="#f2cbc2" stroke-width="0.9" opacity="0.7"/>
<line x1="189.1" y1="58.6" x2="199.1" y2="56.6" stroke="#e2d8ee" stroke-width="0.9" opacity="0.7"/>
<line x1="194.1" y1="52.1" x2="194.1" y2="63.1" stroke="#f2cbc2" stroke-width="0.9" opacity="0.7"/>
<line x1="196.3" y1="62.4" x2="206.3" y2="60.4" stroke="#e2d8ee" stroke-width="0.9" opacity="0.7"/>
<line x1="201.3" y1="55.9" x2="201.3" y2="66.9" stroke="#f2cbc2" stroke-width="0.9" opacity="0.7"/>
<line x1="180.8" y1="64.2" x2="190.8" y2="62.2" stroke="#e2d8ee" stroke-width="0.9" opacity="0.7"/>
<line x1="185.8" y1="57.7" x2="185.8" y2="68.7" stroke="#f2cbc2" stroke-width="0.9" opacity="0.7"/>
<line x1="177.7" y1="69.3" x2="187.7" y2="67.3" stroke="#e2d8ee" stroke-width="0.9" opacity="0.7"/>
<line x1="182.7" y1="62.8" x2="182.7" y2="73.8" stroke="#f2cbc2" stroke-width="0.9" opacity="0.7"/>
<line x1="193.0" y1="67.7" x2="203.0" y2="65.7" stroke="#e2d8ee" stroke-width="0.9" opacity="0.7"/>
<line x1="198.0" y1="61.2" x2="198.0" y2="72.2" stroke="#f2cbc2" stroke-width="0.9" opacity="0.7"/>
<line x1="203.8" y1="65.9" x2="213.8" y2="63.9" stroke="#e2d8ee" stroke-width="0.9" opacity="0.7"/>
<line x1="208.8" y1="59.4" x2="208.8" y2="70.4" stroke="#f2cbc2" stroke-width="0.9" opacity="0.7"/>
<line x1="200.5" y1="71.2" x2="210.5" y2="69.2" stroke="#e2d8ee" stroke-width="0.9" opacity="0.7"/>
<line x1="205.5" y1="64.7" x2="205.5" y2="75.7" stroke="#f2cbc2" stroke-width="0.9" opacity="0.7"/>
<line x1="185.0" y1="73.2" x2="195.0" y2="71.2" stroke="#e2d8ee" stroke-width="0.9" opacity="0.7"/>
<line x1="190.0" y1="66.7" x2="190.0" y2="77.7" stroke="#f2cbc2" stroke-width="0.9" opacity="0.7"/>
<line x1="192.2" y1="76.8" x2="202.2" y2="74.8" stroke="#e2d8ee" stroke-width="0.9" opacity="0.7"/>
<line x1="197.2" y1="70.3" x2="197.2" y2="81.3" stroke="#f2cbc2" stroke-width="0.9" opacity="0.7"/>
<line x1="189.1" y1="82.0" x2="199.1" y2="80.0" stroke="#e2d8ee" stroke-width="0.9" opacity="0.7"/>
<line x1="194.1" y1="75.5" x2="194.1" y2="86.5" stroke="#f2cbc2" stroke-width="0.9" opacity="0.7"/>
<line x1="196.6" y1="86.0" x2="206.6" y2="84.0" stroke="#e2d8ee" stroke-width="0.9" opacity="0.7"/>
<line x1="201.6" y1="79.5" x2="201.6" y2="90.5" stroke="#f2cbc2" stroke-width="0.9" opacity="0.7"/>
<line x1="204.2" y1="80.2" x2="214.2" y2="78.2" stroke="#e2d8ee" stroke-width="0.9" opacity="0.7"/>
<line x1="209.2" y1="73.7" x2="209.2" y2="84.7" stroke="#f2cbc2" stroke-width="0.9" opacity="0.7"/>
<line x1="212.0" y1="60.3" x2="222.0" y2="58.3" stroke="#e2d8ee" stroke-width="0.9" opacity="0.7"/>
<line x1="217.0" y1="53.8" x2="217.0" y2="64.8" stroke="#f2cbc2" stroke-width="0.9" opacity="0.7"/>
<line x1="209.1" y1="65.7" x2="219.1" y2="63.7" stroke="#e2d8ee" stroke-width="0.9" opacity="0.7"/>
<line x1="214.1" y1="59.2" x2="214.1" y2="70.2" stroke="#f2cbc2" stroke-width="0.9" opacity="0.7"/>
<line x1="219.7" y1="64.3" x2="229.7" y2="62.3" stroke="#e2d8ee" stroke-width="0.9" opacity="0.7"/>
<line x1="224.7" y1="57.8" x2="224.7" y2="68.8" stroke="#f2cbc2" stroke-width="0.9" opacity="0.7"/>
<line x1="216.3" y1="69.7" x2="226.3" y2="67.7" stroke="#e2d8ee" stroke-width="0.9" opacity="0.7"/>
<line x1="221.3" y1="63.2" x2="221.3" y2="74.2" stroke="#f2cbc2" stroke-width="0.9" opacity="0.7"/>
<line x1="223.8" y1="73.4" x2="233.8" y2="71.4" stroke="#e2d8ee" stroke-width="0.9" opacity="0.7"/>
<line x1="228.8" y1="66.9" x2="228.8" y2="77.9" stroke="#f2cbc2" stroke-width="0.9" opacity="0.7"/>
<line x1="208.0" y1="75.3" x2="218.0" y2="73.3" stroke="#e2d8ee" stroke-width="0.9" opacity="0.7"/>
<line x1="213.0" y1="68.8" x2="213.0" y2="79.8" stroke="#f2cbc2" stroke-width="0.9" opacity="0.7"/>
<line x1="212.0" y1="84.4" x2="222.0" y2="82.4" stroke="#e2d8ee" stroke-width="0.9" opacity="0.7"/>
<line x1="217.0" y1="77.9" x2="217.0" y2="88.9" stroke="#f2cbc2" stroke-width="0.9" opacity="0.7"/>
<line x1="437.3" y1="62.0" x2="437.3" y2="71.0" stroke="#f1bdb3" stroke-width="0.8" opacity="0.6"/>
<circle cx="437.3" cy="71.0" r="1.4" fill="#f3cfc9" opacity="0.7"/>
<line x1="448.5" y1="75.0" x2="448.5" y2="84.0" stroke="#f1bdb3" stroke-width="0.8" opacity="0.6"/>
<circle cx="448.5" cy="84.0" r="1.4" fill="#f3cfc9" opacity="0.7"/>
<line x1="456.7" y1="69.0" x2="456.7" y2="78.0" stroke="#f1bdb3" stroke-width="0.8" opacity="0.6"/>
<circle cx="456.7" cy="78.0" r="1.4" fill="#f3cfc9" opacity="0.7"/>
<line x1="464.0" y1="73.6" x2="464.0" y2="82.6" stroke="#f1bdb3" stroke-width="0.8" opacity="0.6"/>
<circle cx="464.0" cy="82.6" r="1.4" fill="#f3cfc9" opacity="0.7"/>
<line x1="472.0" y1="77.0" x2="472.0" y2="86.0" stroke="#f1bdb3" stroke-width="0.8" opacity="0.6"/>
<circle cx="472.0" cy="86.0" r="1.4" fill="#f3cfc9" opacity="0.7"/>
<line x1="480.0" y1="72.0" x2="480.0" y2="81.0" stroke="#f1bdb3" stroke-width="0.8" opacity="0.6"/>
<circle cx="480.0" cy="81.0" r="1.4" fill="#f3cfc9" opacity="0.7"/>
<line x1="491.4" y1="61.0" x2="491.4" y2="70.0" stroke="#f1bdb3" stroke-width="0.8" opacity="0.6"/>
<circle cx="491.4" cy="70.0" r="1.4" fill="#f3cfc9" opacity="0.7"/>
<line x1="444.6" y1="66.0" x2="444.6" y2="75.0" stroke="#f1bdb3" stroke-width="0.8" opacity="0.6"/>
<circle cx="444.6" cy="75.0" r="1.4" fill="#f3cfc9" opacity="0.7"/>
<line x1="483.4" y1="66.0" x2="483.4" y2="75.0" stroke="#f1bdb3" stroke-width="0.8" opacity="0.6"/>
<circle cx="483.4" cy="75.0" r="1.4" fill="#f3cfc9" opacity="0.7"/>
<circle cx="430.0" cy="59.8" r="1.4" fill="#e8dde3" opacity="0.85"/>
<circle cx="499.0" cy="57.5" r="1.4" fill="#e8dde3" opacity="0.85"/>
<circle cx="440.0" cy="50.0" r="1.4" fill="#e8dde3" opacity="0.85"/>
<circle cx="452.0" cy="48.0" r="1.4" fill="#e8dde3" opacity="0.85"/>
<circle cx="475.0" cy="47.0" r="1.4" fill="#e8dde3" opacity="0.85"/>
<circle cx="489.0" cy="48.0" r="1.4" fill="#e8dde3" opacity="0.85"/>
<circle cx="466.0" cy="46.0" r="1.4" fill="#e8dde3" opacity="0.85"/>
<line x1="424.0" y1="59.8" x2="436.0" y2="59.8" stroke="#f1bdb3" stroke-width="0.8" opacity="0.6"/>
<line x1="502.0" y1="57.5" x2="492.0" y2="57.8" stroke="#f1bdb3" stroke-width="0.8" opacity="0.6"/>
<line x1="440.0" y1="50.0" x2="444.0" y2="53.0" stroke="#f1bdb3" stroke-width="0.8" opacity="0.6"/>
<line x1="489.0" y1="48.0" x2="485.0" y2="52.0" stroke="#f1bdb3" stroke-width="0.8" opacity="0.6"/>
<line x1="432.0" y1="52.0" x2="440.0" y2="52.0" stroke="#f1bdb3" stroke-width="0.8" opacity="0.6"/>
<line x1="449.0" y1="49.0" x2="457.0" y2="49.0" stroke="#f1bdb3" stroke-width="0.8" opacity="0.6"/>
<line x1="472.0" y1="50.0" x2="480.0" y2="50.0" stroke="#f1bdb3" stroke-width="0.8" opacity="0.6"/>
<line x1="452.0" y1="66.0" x2="447.0" y2="66.0" stroke="#f1bdb3" stroke-width="0.8" opacity="0.6"/>
<line x1="487.0" y1="66.0" x2="493.0" y2="66.0" stroke="#f1bdb3" stroke-width="0.8" opacity="0.6"/>
<line x1="201.9" y1="234.3" x2="201.9" y2="249.3" stroke="#efb4aa" stroke-width="1.1" opacity="0.75"/>
<circle cx="201.9" cy="233.7" r="1.4" fill="#f3cfc9" opacity="0.9"/>
<circle cx="201.9" cy="249.9" r="1.4" fill="#f3cfc9" opacity="0.9"/>
<line x1="209.0" y1="232.2" x2="209.0" y2="247.2" stroke="#efb4aa" stroke-width="1.1" opacity="0.75"/>
<circle cx="209.0" cy="231.6" r="1.4" fill="#f3cfc9" opacity="0.9"/>
<circle cx="209.0" cy="247.8" r="1.4" fill="#f3cfc9" opacity="0.9"/>
<line x1="192.9" y1="241.8" x2="201.9" y2="241.8" stroke="#efb4aa" stroke-width="1.1" opacity="0.75"/>
<circle cx="192.4" cy="241.8" r="1.5" fill="#f3cfc9" opacity="0.85"/>
<line x1="209.0" y1="239.7" x2="218.0" y2="239.7" stroke="#efb4aa" stroke-width="1.1" opacity="0.75"/>
<circle cx="218.5" cy="239.7" r="1.5" fill="#f3cfc9" opacity="0.85"/>
<line x1="184.5" y1="251.8" x2="184.5" y2="266.8" stroke="#efb4aa" stroke-width="1.1" opacity="0.75"/>
<circle cx="184.5" cy="251.2" r="1.4" fill="#f3cfc9" opacity="0.9"/>
<circle cx="184.5" cy="267.4" r="1.4" fill="#f3cfc9" opacity="0.9"/>
<line x1="191.5" y1="249.8" x2="191.5" y2="264.8" stroke="#efb4aa" stroke-width="1.1" opacity="0.75"/>
<circle cx="191.5" cy="249.2" r="1.4" fill="#f3cfc9" opacity="0.9"/>
<circle cx="191.5" cy="265.4" r="1.4" fill="#f3cfc9" opacity="0.9"/>
<line x1="198.3" y1="253.7" x2="198.3" y2="268.7" stroke="#efb4aa" stroke-width="1.1" opacity="0.75"/>
<circle cx="198.3" cy="253.1" r="1.4" fill="#f3cfc9" opacity="0.9"/>
<circle cx="198.3" cy="269.3" r="1.4" fill="#f3cfc9" opacity="0.9"/>
<line x1="205.4" y1="251.8" x2="205.4" y2="266.8" stroke="#efb4aa" stroke-width="1.1" opacity="0.75"/>
<circle cx="205.4" cy="251.2" r="1.4" fill="#f3cfc9" opacity="0.9"/>
<circle cx="205.4" cy="267.4" r="1.4" fill="#f3cfc9" opacity="0.9"/>
<line x1="212.1" y1="249.8" x2="212.1" y2="264.8" stroke="#efb4aa" stroke-width="1.1" opacity="0.75"/>
<circle cx="212.1" cy="249.2" r="1.4" fill="#f3cfc9" opacity="0.9"/>
<circle cx="212.1" cy="265.4" r="1.4" fill="#f3cfc9" opacity="0.9"/>
<line x1="219.1" y1="253.7" x2="219.1" y2="268.7" stroke="#efb4aa" stroke-width="1.1" opacity="0.75"/>
<circle cx="219.1" cy="253.1" r="1.4" fill="#f3cfc9" opacity="0.9"/>
<circle cx="219.1" cy="269.3" r="1.4" fill="#f3cfc9" opacity="0.9"/>
<line x1="226.1" y1="251.8" x2="226.1" y2="266.8" stroke="#efb4aa" stroke-width="1.1" opacity="0.75"/>
<circle cx="226.1" cy="251.2" r="1.4" fill="#f3cfc9" opacity="0.9"/>
<circle cx="226.1" cy="267.4" r="1.4" fill="#f3cfc9" opacity="0.9"/>
<line x1="175.5" y1="259.3" x2="184.5" y2="259.3" stroke="#efb4aa" stroke-width="1.1" opacity="0.75"/>
<circle cx="175.0" cy="259.3" r="1.5" fill="#f3cfc9" opacity="0.85"/>
<line x1="226.1" y1="259.3" x2="235.1" y2="259.3" stroke="#efb4aa" stroke-width="1.1" opacity="0.75"/>
<circle cx="235.6" cy="259.3" r="1.5" fill="#f3cfc9" opacity="0.85"/>
<line x1="187.9" y1="269.9" x2="187.9" y2="284.9" stroke="#efb4aa" stroke-width="1.1" opacity="0.75"/>
<circle cx="187.9" cy="269.3" r="1.4" fill="#f3cfc9" opacity="0.9"/>
<circle cx="187.9" cy="285.5" r="1.4" fill="#f3cfc9" opacity="0.9"/>
<line x1="194.6" y1="273.9" x2="194.6" y2="288.9" stroke="#efb4aa" stroke-width="1.1" opacity="0.75"/>
<circle cx="194.6" cy="273.3" r="1.4" fill="#f3cfc9" opacity="0.9"/>
<circle cx="194.6" cy="289.5" r="1.4" fill="#f3cfc9" opacity="0.9"/>
<line x1="201.9" y1="271.6" x2="201.9" y2="286.6" stroke="#efb4aa" stroke-width="1.1" opacity="0.75"/>
<circle cx="201.9" cy="271.0" r="1.4" fill="#f3cfc9" opacity="0.9"/>
<circle cx="201.9" cy="287.2" r="1.4" fill="#f3cfc9" opacity="0.9"/>
<line x1="208.8" y1="269.9" x2="208.8" y2="284.9" stroke="#efb4aa" stroke-width="1.1" opacity="0.75"/>
<circle cx="208.8" cy="269.3" r="1.4" fill="#f3cfc9" opacity="0.9"/>
<circle cx="208.8" cy="285.5" r="1.4" fill="#f3cfc9" opacity="0.9"/>
<line x1="215.8" y1="267.3" x2="215.8" y2="282.3" stroke="#efb4aa" stroke-width="1.1" opacity="0.75"/>
<circle cx="215.8" cy="266.7" r="1.4" fill="#f3cfc9" opacity="0.9"/>
<circle cx="215.8" cy="282.9" r="1.4" fill="#f3cfc9" opacity="0.9"/>
<line x1="222.5" y1="271.6" x2="222.5" y2="286.6" stroke="#efb4aa" stroke-width="1.1" opacity="0.75"/>
<circle cx="222.5" cy="271.0" r="1.4" fill="#f3cfc9" opacity="0.9"/>
<circle cx="222.5" cy="287.2" r="1.4" fill="#f3cfc9" opacity="0.9"/>
<line x1="178.9" y1="277.4" x2="187.9" y2="277.4" stroke="#efb4aa" stroke-width="1.1" opacity="0.75"/>
<circle cx="178.4" cy="277.4" r="1.5" fill="#f3cfc9" opacity="0.85"/>
<line x1="222.5" y1="279.1" x2="231.5" y2="279.1" stroke="#efb4aa" stroke-width="1.1" opacity="0.75"/>
<circle cx="232.0" cy="279.1" r="1.5" fill="#f3cfc9" opacity="0.85"/>
<line x1="198.0" y1="291.1" x2="198.0" y2="309.6" stroke="#efb4aa" stroke-width="1.1" opacity="0.75"/>
<circle cx="198.0" cy="290.5" r="1.4" fill="#f3cfc9" opacity="0.9"/>
<circle cx="198.0" cy="310.2" r="1.4" fill="#f3cfc9" opacity="0.9"/>
<line x1="205.3" y1="289.4" x2="205.3" y2="307.9" stroke="#efb4aa" stroke-width="1.1" opacity="0.75"/>
<circle cx="205.3" cy="288.8" r="1.4" fill="#f3cfc9" opacity="0.9"/>
<circle cx="205.3" cy="308.5" r="1.4" fill="#f3cfc9" opacity="0.9"/>
<line x1="212.5" y1="287.4" x2="212.5" y2="305.9" stroke="#efb4aa" stroke-width="1.1" opacity="0.75"/>
<circle cx="212.5" cy="286.8" r="1.4" fill="#f3cfc9" opacity="0.9"/>
<circle cx="212.5" cy="306.5" r="1.4" fill="#f3cfc9" opacity="0.9"/>
<line x1="189.0" y1="298.6" x2="198.0" y2="298.6" stroke="#efb4aa" stroke-width="1.1" opacity="0.75"/>
<circle cx="188.5" cy="298.6" r="1.5" fill="#f3cfc9" opacity="0.85"/>
<line x1="212.5" y1="294.9" x2="221.5" y2="294.9" stroke="#efb4aa" stroke-width="1.1" opacity="0.75"/>
<circle cx="222.0" cy="294.9" r="1.5" fill="#f3cfc9" opacity="0.85"/>
<line x1="426.1" y1="269.4" x2="426.1" y2="284.4" stroke="#efb4aa" stroke-width="1.05" opacity="0.7"/>
<circle cx="426.1" cy="268.9" r="1.3" fill="#f3cfc9" opacity="0.85"/>
<circle cx="426.1" cy="284.9" r="1.3" fill="#f3cfc9" opacity="0.85"/>
<line x1="433.4" y1="267.3" x2="433.4" y2="282.3" stroke="#efb4aa" stroke-width="1.05" opacity="0.7"/>
<circle cx="433.4" cy="266.8" r="1.3" fill="#f3cfc9" opacity="0.85"/>
<circle cx="433.4" cy="282.8" r="1.3" fill="#f3cfc9" opacity="0.85"/>
<line x1="439.8" y1="273.5" x2="439.8" y2="288.5" stroke="#efb4aa" stroke-width="1.05" opacity="0.7"/>
<circle cx="439.8" cy="273.0" r="1.3" fill="#f3cfc9" opacity="0.85"/>
<circle cx="439.8" cy="289.0" r="1.3" fill="#f3cfc9" opacity="0.85"/>
<line x1="446.9" y1="271.4" x2="446.9" y2="286.4" stroke="#efb4aa" stroke-width="1.05" opacity="0.7"/>
<circle cx="446.9" cy="270.9" r="1.3" fill="#f3cfc9" opacity="0.85"/>
<circle cx="446.9" cy="286.9" r="1.3" fill="#f3cfc9" opacity="0.85"/>
<line x1="454.1" y1="268.8" x2="454.1" y2="283.8" stroke="#efb4aa" stroke-width="1.05" opacity="0.7"/>
<circle cx="454.1" cy="268.3" r="1.3" fill="#f3cfc9" opacity="0.85"/>
<circle cx="454.1" cy="284.3" r="1.3" fill="#f3cfc9" opacity="0.85"/>
<line x1="453.8" y1="273.7" x2="453.8" y2="288.7" stroke="#efb4aa" stroke-width="1.05" opacity="0.7"/>
<circle cx="453.8" cy="273.2" r="1.3" fill="#f3cfc9" opacity="0.85"/>
<circle cx="453.8" cy="289.2" r="1.3" fill="#f3cfc9" opacity="0.85"/>
<line x1="461.0" y1="271.4" x2="461.0" y2="286.4" stroke="#efb4aa" stroke-width="1.05" opacity="0.7"/>
<circle cx="461.0" cy="270.9" r="1.3" fill="#f3cfc9" opacity="0.85"/>
<circle cx="461.0" cy="286.9" r="1.3" fill="#f3cfc9" opacity="0.85"/>
<line x1="468.1" y1="269.6" x2="468.1" y2="284.6" stroke="#efb4aa" stroke-width="1.05" opacity="0.7"/>
<circle cx="468.1" cy="269.1" r="1.3" fill="#f3cfc9" opacity="0.85"/>
<circle cx="468.1" cy="285.1" r="1.3" fill="#f3cfc9" opacity="0.85"/>
<line x1="475.2" y1="267.3" x2="475.2" y2="282.3" stroke="#efb4aa" stroke-width="1.05" opacity="0.7"/>
<circle cx="475.2" cy="266.8" r="1.3" fill="#f3cfc9" opacity="0.85"/>
<circle cx="475.2" cy="282.8" r="1.3" fill="#f3cfc9" opacity="0.85"/>
<line x1="474.6" y1="275.4" x2="474.6" y2="290.4" stroke="#efb4aa" stroke-width="1.05" opacity="0.7"/>
<circle cx="474.6" cy="274.9" r="1.3" fill="#f3cfc9" opacity="0.85"/>
<circle cx="474.6" cy="290.9" r="1.3" fill="#f3cfc9" opacity="0.85"/>
<line x1="481.8" y1="273.7" x2="481.8" y2="288.7" stroke="#efb4aa" stroke-width="1.05" opacity="0.7"/>
<circle cx="481.8" cy="273.2" r="1.3" fill="#f3cfc9" opacity="0.85"/>
<circle cx="481.8" cy="289.2" r="1.3" fill="#f3cfc9" opacity="0.85"/>
<line x1="488.7" y1="271.4" x2="488.7" y2="286.4" stroke="#efb4aa" stroke-width="1.05" opacity="0.7"/>
<circle cx="488.7" cy="270.9" r="1.3" fill="#f3cfc9" opacity="0.85"/>
<circle cx="488.7" cy="286.9" r="1.3" fill="#f3cfc9" opacity="0.85"/>
<line x1="495.4" y1="273.7" x2="495.4" y2="288.7" stroke="#efb4aa" stroke-width="1.05" opacity="0.7"/>
<circle cx="495.4" cy="273.2" r="1.3" fill="#f3cfc9" opacity="0.85"/>
<circle cx="495.4" cy="289.2" r="1.3" fill="#f3cfc9" opacity="0.85"/>
<line x1="502.5" y1="271.4" x2="502.5" y2="286.4" stroke="#efb4aa" stroke-width="1.05" opacity="0.7"/>
<circle cx="502.5" cy="270.9" r="1.3" fill="#f3cfc9" opacity="0.85"/>
<circle cx="502.5" cy="286.9" r="1.3" fill="#f3cfc9" opacity="0.85"/>
<line x1="418.1" y1="275.9" x2="426.1" y2="275.9" stroke="#efb4aa" stroke-width="1.1" opacity="0.75"/>
<circle cx="417.6" cy="275.9" r="1.5" fill="#f3cfc9" opacity="0.85"/>
<line x1="502.5" y1="277.9" x2="510.5" y2="277.9" stroke="#efb4aa" stroke-width="1.1" opacity="0.75"/>
<circle cx="511.0" cy="277.9" r="1.5" fill="#f3cfc9" opacity="0.85"/>
<line x1="443.4" y1="292.1" x2="443.4" y2="307.1" stroke="#efb4aa" stroke-width="1.05" opacity="0.7"/>
<circle cx="443.4" cy="307.6" r="1.3" fill="#f3cfc9" opacity="0.85"/>
<line x1="450.4" y1="290.2" x2="450.4" y2="305.2" stroke="#efb4aa" stroke-width="1.05" opacity="0.7"/>
<circle cx="450.4" cy="305.7" r="1.3" fill="#f3cfc9" opacity="0.85"/>
<line x1="457.4" y1="293.3" x2="457.4" y2="308.3" stroke="#efb4aa" stroke-width="1.05" opacity="0.7"/>
<circle cx="457.4" cy="308.8" r="1.3" fill="#f3cfc9" opacity="0.85"/>
<line x1="464.4" y1="291.3" x2="464.4" y2="306.3" stroke="#efb4aa" stroke-width="1.05" opacity="0.7"/>
<circle cx="464.4" cy="306.8" r="1.3" fill="#f3cfc9" opacity="0.85"/>
<line x1="471.5" y1="289.4" x2="471.5" y2="304.4" stroke="#efb4aa" stroke-width="1.05" opacity="0.7"/>
<circle cx="471.5" cy="304.9" r="1.3" fill="#f3cfc9" opacity="0.85"/>
<line x1="478.4" y1="294.2" x2="478.4" y2="309.2" stroke="#efb4aa" stroke-width="1.05" opacity="0.7"/>
<circle cx="478.4" cy="309.7" r="1.3" fill="#f3cfc9" opacity="0.85"/>
<line x1="485.2" y1="292.3" x2="485.2" y2="307.3" stroke="#efb4aa" stroke-width="1.05" opacity="0.7"/>
<circle cx="485.2" cy="307.8" r="1.3" fill="#f3cfc9" opacity="0.85"/>
<line x1="435.4" y1="297.1" x2="443.4" y2="297.1" stroke="#efb4aa" stroke-width="1.1" opacity="0.75"/>
<circle cx="434.9" cy="297.1" r="1.5" fill="#f3cfc9" opacity="0.85"/>
<line x1="485.2" y1="297.3" x2="493.2" y2="297.3" stroke="#efb4aa" stroke-width="1.1" opacity="0.75"/>
<circle cx="493.7" cy="297.3" r="1.5" fill="#f3cfc9" opacity="0.85"/>
<circle cx="194.1" cy="33.7" r="2.7" fill="url(#go)" stroke="#8a3f0e" stroke-width="0.95"/>
<circle cx="201.5" cy="37.6" r="2.7" fill="url(#go)" stroke="#8a3f0e" stroke-width="0.95"/>
<circle cx="198" cy="42.6" r="2.7" fill="url(#go)" stroke="#8a3f0e" stroke-width="0.95"/>
<circle cx="182.5" cy="44.5" r="2.7" fill="url(#go)" stroke="#8a3f0e" stroke-width="0.95"/>
<circle cx="189.8" cy="48.4" r="2.7" fill="url(#go)" stroke="#8a3f0e" stroke-width="0.95"/>
<circle cx="186.8" cy="53.5" r="2.7" fill="url(#go)" stroke="#8a3f0e" stroke-width="0.95"/>
<circle cx="205.6" cy="46.5" r="2.7" fill="url(#go)" stroke="#8a3f0e" stroke-width="0.95"/>
<circle cx="197.2" cy="52.3" r="2.7" fill="url(#go)" stroke="#8a3f0e" stroke-width="0.95"/>
<circle cx="202.2" cy="52" r="2.7" fill="url(#go)" stroke="#8a3f0e" stroke-width="0.95"/>
<circle cx="209.8" cy="31.7" r="2.7" fill="url(#go)" stroke="#8a3f0e" stroke-width="0.95"/>
<circle cx="217.2" cy="35.6" r="2.7" fill="url(#go)" stroke="#8a3f0e" stroke-width="0.95"/>
<circle cx="214.1" cy="41" r="2.7" fill="url(#go)" stroke="#8a3f0e" stroke-width="0.95"/>
<circle cx="221.3" cy="44.8" r="2.7" fill="url(#go)" stroke="#8a3f0e" stroke-width="0.95"/>
<circle cx="228.7" cy="48.7" r="2.7" fill="url(#go)" stroke="#8a3f0e" stroke-width="0.95"/>
<circle cx="225.6" cy="53.6" r="2.7" fill="url(#go)" stroke="#8a3f0e" stroke-width="0.95"/>
<circle cx="212.8" cy="50.8" r="2.7" fill="url(#go)" stroke="#8a3f0e" stroke-width="0.95"/>
<circle cx="210" cy="55.5" r="2.7" fill="url(#go)" stroke="#8a3f0e" stroke-width="0.95"/>
<circle cx="233" cy="57.3" r="2.7" fill="url(#go)" stroke="#8a3f0e" stroke-width="0.95"/>
<circle cx="178.4" cy="59.3" r="2.7" fill="url(#go)" stroke="#8a3f0e" stroke-width="0.95"/>
<circle cx="194.1" cy="57.6" r="2.7" fill="url(#go)" stroke="#8a3f0e" stroke-width="0.95"/>
<circle cx="201.3" cy="61.4" r="2.7" fill="url(#go)" stroke="#8a3f0e" stroke-width="0.95"/>
<circle cx="185.8" cy="63.2" r="2.7" fill="url(#go)" stroke="#8a3f0e" stroke-width="0.95"/>
<circle cx="182.7" cy="68.3" r="2.7" fill="url(#go)" stroke="#8a3f0e" stroke-width="0.95"/>
<circle cx="198" cy="66.7" r="2.7" fill="url(#go)" stroke="#8a3f0e" stroke-width="0.95"/>
<circle cx="208.8" cy="64.9" r="2.7" fill="url(#go)" stroke="#8a3f0e" stroke-width="0.95"/>
<circle cx="205.5" cy="70.2" r="2.7" fill="url(#go)" stroke="#8a3f0e" stroke-width="0.95"/>
<circle cx="190" cy="72.2" r="2.7" fill="url(#go)" stroke="#8a3f0e" stroke-width="0.95"/>
<circle cx="197.2" cy="75.8" r="2.7" fill="url(#go)" stroke="#8a3f0e" stroke-width="0.95"/>
<circle cx="194.1" cy="81" r="2.7" fill="url(#go)" stroke="#8a3f0e" stroke-width="0.95"/>
<circle cx="201.6" cy="85" r="2.7" fill="url(#go)" stroke="#8a3f0e" stroke-width="0.95"/>
<circle cx="209.2" cy="79.2" r="2.7" fill="url(#go)" stroke="#8a3f0e" stroke-width="0.95"/>
<circle cx="217" cy="59.3" r="2.7" fill="url(#go)" stroke="#8a3f0e" stroke-width="0.95"/>
<circle cx="214.1" cy="64.7" r="2.7" fill="url(#go)" stroke="#8a3f0e" stroke-width="0.95"/>
<circle cx="224.7" cy="63.3" r="2.7" fill="url(#go)" stroke="#8a3f0e" stroke-width="0.95"/>
<circle cx="221.3" cy="68.7" r="2.7" fill="url(#go)" stroke="#8a3f0e" stroke-width="0.95"/>
<circle cx="228.8" cy="72.4" r="2.7" fill="url(#go)" stroke="#8a3f0e" stroke-width="0.95"/>
<circle cx="213" cy="74.3" r="2.7" fill="url(#go)" stroke="#8a3f0e" stroke-width="0.95"/>
<circle cx="217" cy="83.4" r="2.7" fill="url(#go)" stroke="#8a3f0e" stroke-width="0.95"/>
<circle cx="205.3" cy="58.5" r="2.5" fill="url(#gg)" stroke="#2b2b2b" stroke-width="0.95"/>
<circle cx="445.6" cy="54" r="2.7" fill="url(#go)" stroke="#8a3f0e" stroke-width="0.95"/>
<circle cx="461.1" cy="51.8" r="2.7" fill="url(#go)" stroke="#8a3f0e" stroke-width="0.95"/>
<circle cx="484.2" cy="54" r="2.7" fill="url(#go)" stroke="#8a3f0e" stroke-width="0.95"/>
<circle cx="437.3" cy="59.8" r="2.7" fill="url(#go)" stroke="#8a3f0e" stroke-width="0.95"/>
<circle cx="452.8" cy="57.7" r="2.7" fill="url(#go)" stroke="#8a3f0e" stroke-width="0.95"/>
<circle cx="468.7" cy="55.6" r="2.7" fill="url(#go)" stroke="#8a3f0e" stroke-width="0.95"/>
<circle cx="475.8" cy="59.8" r="2.7" fill="url(#go)" stroke="#8a3f0e" stroke-width="0.95"/>
<circle cx="491.7" cy="57.9" r="2.7" fill="url(#go)" stroke="#8a3f0e" stroke-width="0.95"/>
<circle cx="460" cy="61.6" r="2.7" fill="url(#go)" stroke="#8a3f0e" stroke-width="0.95"/>
<circle cx="444.6" cy="63.4" r="2.7" fill="url(#go)" stroke="#8a3f0e" stroke-width="0.95"/>
<circle cx="467.6" cy="65.5" r="2.7" fill="url(#go)" stroke="#8a3f0e" stroke-width="0.95"/>
<circle cx="483.4" cy="63.4" r="2.7" fill="url(#go)" stroke="#8a3f0e" stroke-width="0.95"/>
<circle cx="456.7" cy="66.7" r="2.7" fill="url(#go)" stroke="#8a3f0e" stroke-width="0.95"/>
<circle cx="480.1" cy="68.9" r="2.7" fill="url(#go)" stroke="#8a3f0e" stroke-width="0.95"/>
<circle cx="464.2" cy="70.6" r="2.7" fill="url(#go)" stroke="#8a3f0e" stroke-width="0.95"/>
<circle cx="448.8" cy="72.5" r="2.7" fill="url(#go)" stroke="#8a3f0e" stroke-width="0.95"/>
<circle cx="471.9" cy="74.6" r="2.7" fill="url(#go)" stroke="#8a3f0e" stroke-width="0.95"/>
<circle cx="464" cy="58.4" r="2.5" fill="url(#gg)" stroke="#2b2b2b" stroke-width="0.95"/>
<circle cx="201.9" cy="241.8" r="2.85" fill="url(#gb)" stroke="#41699a" stroke-width="1.0"/>
<circle cx="209" cy="239.7" r="2.85" fill="url(#gb)" stroke="#41699a" stroke-width="1.0"/>
<circle cx="184.5" cy="259.3" r="2.85" fill="url(#gb)" stroke="#41699a" stroke-width="1.0"/>
<circle cx="191.5" cy="257.3" r="2.85" fill="url(#gb)" stroke="#41699a" stroke-width="1.0"/>
<circle cx="198.3" cy="261.2" r="2.85" fill="url(#gb)" stroke="#41699a" stroke-width="1.0"/>
<circle cx="205.4" cy="259.3" r="2.85" fill="url(#gb)" stroke="#41699a" stroke-width="1.0"/>
<circle cx="212.1" cy="257.3" r="2.85" fill="url(#gb)" stroke="#41699a" stroke-width="1.0"/>
<circle cx="219.1" cy="261.2" r="2.85" fill="url(#gb)" stroke="#41699a" stroke-width="1.0"/>
<circle cx="226.1" cy="259.3" r="2.85" fill="url(#gb)" stroke="#41699a" stroke-width="1.0"/>
<circle cx="187.9" cy="277.4" r="2.85" fill="url(#gb)" stroke="#41699a" stroke-width="1.0"/>
<circle cx="194.6" cy="281.4" r="2.85" fill="url(#gb)" stroke="#41699a" stroke-width="1.0"/>
<circle cx="201.9" cy="279.1" r="2.85" fill="url(#gb)" stroke="#41699a" stroke-width="1.0"/>
<circle cx="208.8" cy="277.4" r="2.85" fill="url(#gb)" stroke="#41699a" stroke-width="1.0"/>
<circle cx="215.8" cy="274.8" r="2.85" fill="url(#gb)" stroke="#41699a" stroke-width="1.0"/>
<circle cx="222.5" cy="279.1" r="2.85" fill="url(#gb)" stroke="#41699a" stroke-width="1.0"/>
<circle cx="198" cy="298.6" r="2.85" fill="url(#gb)" stroke="#41699a" stroke-width="1.0"/>
<circle cx="205.3" cy="296.9" r="2.85" fill="url(#gb)" stroke="#41699a" stroke-width="1.0"/>
<circle cx="212.5" cy="294.9" r="2.85" fill="url(#gb)" stroke="#41699a" stroke-width="1.0"/>
<circle cx="205.3" cy="270.7" r="2.6" fill="url(#gg)" stroke="#2b2b2b" stroke-width="0.95"/>
<circle cx="426.1" cy="275.9" r="2.85" fill="url(#gb)" stroke="#41699a" stroke-width="1.0"/>
<circle cx="433.4" cy="273.8" r="2.85" fill="url(#gb)" stroke="#41699a" stroke-width="1.0"/>
<circle cx="439.8" cy="280" r="2.85" fill="url(#gb)" stroke="#41699a" stroke-width="1.0"/>
<circle cx="446.9" cy="277.9" r="2.85" fill="url(#gb)" stroke="#41699a" stroke-width="1.0"/>
<circle cx="454.1" cy="275.3" r="2.85" fill="url(#gb)" stroke="#41699a" stroke-width="1.0"/>
<circle cx="453.8" cy="280.2" r="2.85" fill="url(#gb)" stroke="#41699a" stroke-width="1.0"/>
<circle cx="461" cy="277.9" r="2.85" fill="url(#gb)" stroke="#41699a" stroke-width="1.0"/>
<circle cx="468.1" cy="276.1" r="2.85" fill="url(#gb)" stroke="#41699a" stroke-width="1.0"/>
<circle cx="475.2" cy="273.8" r="2.85" fill="url(#gb)" stroke="#41699a" stroke-width="1.0"/>
<circle cx="474.6" cy="281.9" r="2.85" fill="url(#gb)" stroke="#41699a" stroke-width="1.0"/>
<circle cx="481.8" cy="280.2" r="2.85" fill="url(#gb)" stroke="#41699a" stroke-width="1.0"/>
<circle cx="488.7" cy="277.9" r="2.85" fill="url(#gb)" stroke="#41699a" stroke-width="1.0"/>
<circle cx="495.4" cy="280.2" r="2.85" fill="url(#gb)" stroke="#41699a" stroke-width="1.0"/>
<circle cx="502.5" cy="277.9" r="2.85" fill="url(#gb)" stroke="#41699a" stroke-width="1.0"/>
<circle cx="443.4" cy="297.1" r="2.85" fill="url(#gb)" stroke="#41699a" stroke-width="1.0"/>
<circle cx="450.4" cy="295.2" r="2.85" fill="url(#gb)" stroke="#41699a" stroke-width="1.0"/>
<circle cx="457.4" cy="298.3" r="2.85" fill="url(#gb)" stroke="#41699a" stroke-width="1.0"/>
<circle cx="464.4" cy="296.3" r="2.85" fill="url(#gb)" stroke="#41699a" stroke-width="1.0"/>
<circle cx="471.5" cy="294.4" r="2.85" fill="url(#gb)" stroke="#41699a" stroke-width="1.0"/>
<circle cx="478.4" cy="299.2" r="2.85" fill="url(#gb)" stroke="#41699a" stroke-width="1.0"/>
<circle cx="485.2" cy="297.3" r="2.85" fill="url(#gb)" stroke="#41699a" stroke-width="1.0"/>
<circle cx="464.3" cy="270.7" r="2.6" fill="url(#gg)" stroke="#2b2b2b" stroke-width="0.95"/>
</svg>
</body></html>
